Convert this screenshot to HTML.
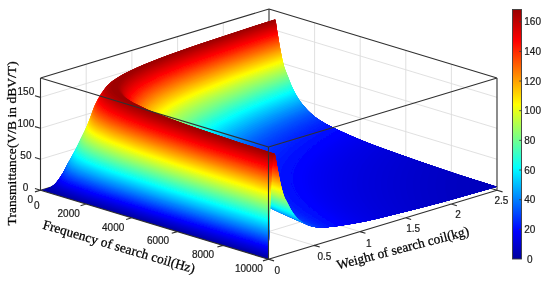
<!DOCTYPE html><html><head><meta charset="utf-8"><title>Transmittance surface</title><style>html,body{margin:0;padding:0;background:#fff}svg{display:block}text{font-family:"Liberation Sans",sans-serif;font-size:10px;fill:#1a1a1a;stroke:#1a1a1a;stroke-width:.2px}.s{font-family:"Liberation Serif",serif;font-size:13.4px;fill:#000;stroke:#000;stroke-width:.25px}</style></head><body>
<svg width="550" height="284" viewBox="0 0 550 284">
<defs><linearGradient id="jet" x1="0" y1="1" x2="0" y2="0">
<stop offset="0.0000" stop-color="#00009e"/>
<stop offset="0.1111" stop-color="#0000ff"/>
<stop offset="0.3651" stop-color="#00ffff"/>
<stop offset="0.6190" stop-color="#ffff00"/>
<stop offset="0.8730" stop-color="#ff0000"/>
<stop offset="1.0000" stop-color="#990000"/>
</linearGradient><filter id="b" x="0" y="0" width="550" height="284" filterUnits="userSpaceOnUse"><feGaussianBlur stdDeviation="0.45"/></filter></defs>
<rect width="550" height="284" fill="#fff"/>
<path d="M86.2 176.4L86.2 64.18M86.2 176.4L314.2 245.4M131.9 162.6L131.9 50.38M131.9 162.6L359.9 231.6M177.6 148.8L177.6 36.58M177.6 148.8L405.6 217.8M223.3 135L223.3 22.78M223.3 135L451.3 204M314.6 135L314.6 22.78M86.1 204L314.6 135M360.2 148.8L360.2 36.58M131.7 217.8L360.2 148.8M405.8 162.6L405.8 50.38M177.3 231.6L405.8 162.6M451.4 176.4L451.4 64.18M222.9 245.4L451.4 176.4M40.5 159.25L269 90.25M269 90.25L497 159.25M40.5 128.3L269 59.3M269 59.3L497 128.3M40.5 97.35L269 28.35M269 28.35L497 97.35" stroke="#dcdcdc" stroke-width="0.9" fill="none"/>
<path d="M40.5 190.2L269 121.2M269 121.2L497 190.2M269 121.2L269 8.98" stroke="#303030" stroke-width="1.1" fill="none"/>
<g filter="url(#b)"><g fill-rule="evenodd" stroke="none" transform="scale(0.25) translate(0.5,0.5)"><path fill="#00009f" d="M1987 746l-150-47-103-35-3 0-1 2-243-86-67-27-74-33-38-19-43-26-26-21-32-35-23-34-23-46-11-31-11-24-10-34-14-70-14-93-3-7-190 61-236 81-78 30-54 23-41 20-40 24-18 14-14 14-15 20-20 32-12 24-27 74-12 27-38 77-26 46-17 35-23 37-11 14-9 8-1-3 2-2-5 5-16 9-34 10 910 276 0-80 4-112 2-14 7 1 83 39 73 31 24 5 53-1 90-13 93-19 227-58 2 2 11-2z"/>
<path fill="#0000a1" d="M1987 746l-150-47-130-44-3 2-217-77-67-27-74-33-38-19-43-26-26-21-32-35-23-34-23-46-11-31-11-24-10-34-14-70-14-93-3-7-190 61-236 81-78 30-54 23-41 20-40 24-18 14-14 14-15 20-20 32-12 24-27 74-12 27-38 77-54 100-18 26-13 13 0-4-11 9-28 11-3 4 9 5 69 22 819 248 0-79 4-112 2-14 7 1 83 39 73 31 24 5 53-1 60-8 83-15 110-26 131-34 5 2z"/>
<path fill="#0000a3" d="M1987 746l-150-47-153-52-4 2-193-69-67-27-74-33-38-19-43-26-26-21-32-35-23-34-23-46-11-31-11-24-10-34-14-70-14-93-3-7-190 61-236 81-78 30-54 23-41 20-40 24-18 14-14 14-15 20-20 32-12 24-27 74-12 27-38 77-54 100-18 26-12 12-1-3-11 9-25 11-1 3 3 3 58 20 831 252 0-78 4-112 2-14 7 1 83 39 73 31 24 5 53-1 60-8 83-15 110-26 108-28 4 2 117-31z"/>
<path fill="#0000a5" d="M1987 746l-150-47-176-60-4 2-170-61-67-27-74-33-38-19-43-26-26-21-32-35-23-34-23-46-11-31-11-24-10-34-14-70-14-93-3-7-190 61-236 81-78 30-54 23-41 20-40 24-18 14-14 14-15 20-20 32-12 24-27 74-12 27-38 77-54 100-18 26-10 11-3-2-11 9-18 8-4 3 0 2 16 9 58 19 814 247 1-19-2-2 2-90 3-78 2-14 7 1 83 39 73 31 24 5 53-1 60-8 83-15 194-48 5 2 140-37z"/>
<path fill="#0000a7" d="M1987 746l-150-47-196-67-3 2-151-54-67-27-74-33-38-19-43-26-26-21-32-35-23-34-23-46-11-31-11-24-10-34-14-70-14-93-3-7-190 61-236 81-78 30-54 23-41 20-40 24-18 14-14 14-15 20-20 32-12 24-27 74-12 27-38 77-54 100-18 26-10 11-1-3-13 10-15 7-4 5 6 5 17 7 81 26 781 237 1-19-2-2 2-89 3-78 2-14 7 1 83 39 73 31 24 5 53-1 60-8 68-12 76-17 113-29 5 2 160-42z"/>
<path fill="#0000aa" d="M1987 746l-150-47-216-74-3 2-131-47-67-27-74-33-38-19-43-26-26-21-32-35-23-34-23-46-11-31-11-24-10-34-14-70-14-93-3-7-190 61-236 81-78 30-54 23-41 20-40 24-18 14-14 14-15 20-20 32-12 24-27 74-12 27-38 77-54 100-27 36-1-3-14 11-14 7-2 4 4 4 15 7 89 29 774 235 1-19-2-2 2-88 3-78 2-14 7 1 83 39 73 31 24 5 53-1 60-8 68-12 76-17 94-24 5 2 179-47z"/>
<path fill="#0000ac" d="M1987 746l-150-47-129-43-106-38-4 2-111-40-67-27-74-33-38-19-43-26-26-21-32-35-23-34-23-46-11-31-11-24-10-34-14-70-14-93-3-7-190 61-236 81-78 30-54 23-41 20-40 24-18 14-14 14-15 20-20 32-12 24-27 74-12 27-38 77-54 100-26 35-1-3-9 8-16 9-3 3 0 3 3 3 20 9 89 29 767 233 1-19-2-2 2-87 3-78 2-14 7 1 83 39 73 31 24 5 53-1 60-8 68-12 76-17 74-19 5 2 155-40z"/>
<path fill="#0000ae" d="M1987 746l-150-47-129-43-123-44-10 0-88-32-67-27-74-33-38-19-43-26-26-21-32-35-23-34-23-46-11-31-11-24-10-34-14-70-14-93-3-7-190 61-236 81-78 30-54 23-41 20-40 24-18 14-14 14-15 20-20 32-12 24-27 74-12 27-38 77-54 100-25 34-1-3-10 9-14 8-3 5 2 3 13 7 70 24 792 241 1-19-2-2 2-86 3-78 2-14 7 1 83 39 73 31 24 5 53-1 112-17 71-15 75-19 5 2 175-45z"/>
<path fill="#0000b0" d="M1987 746l-150-47-129-43-143-51-4 2-74-27-67-27-74-33-38-19-43-26-26-21-32-35-23-34-23-46-11-31-11-24-10-34-14-70-14-93-3-7-298 97-160 57-115 48-49 26-29 20-24 24-31 47-12 24-27 74-12 27-38 77-18 31-30 59-29 42-3 0 2-4-12 12-14 9 0 5 7 5 19 8 82 27 766 233 1-19-2-2 2-85 3-78 2-14 7 1 83 39 73 31 24 5 53-1 112-17 71-15 58-15 3 2 194-49z"/>
<path fill="#0000b2" d="M1987 746l-150-47-155-52-134-48-6 1-55-20-67-27-74-33-38-19-43-26-26-21-32-35-23-34-23-46-11-31-11-24-10-34-14-70-14-93-3-7-298 97-160 57-115 48-49 26-29 20-24 24-31 47-12 24-27 74-12 27-38 77-18 31-30 59-29 42-2 0 1-4-12 12-12 8 0 5 5 4 20 9 104 34 743 225 1-18-2-2 2-84 3-78 2-14 7 1 83 39 73 31 24 5 53-1 90-13 53-10 78-19 9 1 208-53z"/>
<path fill="#0000b4" d="M1987 746l-150-47-155-52-147-53-10 0-105-41-74-33-38-19-43-26-26-21-32-35-23-34-23-46-11-31-11-24-10-34-14-70-14-93-3-7-190 61-236 81-78 30-54 23-41 20-40 24-18 14-14 14-31 45-16 31-27 74-12 27-38 77-26 46-17 35-29 45-5 5 0-4-7 8-13 9-4 6 4 5 21 10 81 27 765 232 1-18-2-2 2-83 3-78 2-14 7 1 83 39 73 31 24 5 53-1 112-17 93-21 5 2 228-58z"/>
<path fill="#0000b6" d="M1987 746l-150-47-178-60-144-52-6 1-89-35-74-33-38-19-43-26-26-21-32-35-23-34-23-46-11-31-11-24-10-34-14-70-14-93-3-7-298 97-160 57-115 48-49 26-29 20-24 24-31 47-12 24-27 74-12 27-38 77-18 31-30 59-24 36-4 4 0-4-8 9-15 12 0 3 5 5 27 12 82 27 756 229-2-33 5-147 2-14 7 1 83 39 73 31 24 5 53-1 90-13 53-10 45-11 9 1 241-61z"/>
<path fill="#0000b8" d="M1987 746l-119-37-160-53-209-75-4 2-75-30-74-33-38-19-43-26-26-21-32-35-23-34-23-46-11-31-11-24-10-34-14-70-14-93-3-7-298 97-160 57-115 48-49 26-29 20-24 24-31 47-12 24-27 74-12 27-38 77-18 31-30 59-27 39-1-3-8 9-10 7-3 7 6 6 25 11 91 30 746 227-2-33 5-147 2-14 7 1 83 39 73 31 24 5 53-1 90-13 85-18 4 2 259-65z"/>
<path fill="#0000ba" d="M1987 746l-150-47-178-60-173-63-4 2-136-58-38-19-43-26-26-21-32-35-23-34-23-46-11-31-11-24-10-34-14-70-14-93-3-7-190 61-236 81-78 30-54 23-41 20-40 24-18 14-14 14-31 45-16 31-27 74-12 27-38 77-26 46-17 35-31 47-1-3-20 19-1 3 5 6 16 8 94 32 752 229-2-32 5-147 2-14 7 1 83 39 73 31 24 5 53-1 60-8 68-12 34-8 5 2 271-68z"/>
<path fill="#0000bc" d="M1987 746l-119-37-160-53-159-56-74-28-6 1-123-53-38-19-43-26-26-21-32-35-23-34-23-46-11-31-11-24-10-34-14-70-14-93-3-7-298 97-160 57-115 48-49 26-29 20-24 24-31 47-12 24-32 86-45 92-54 100-20 28-1-1 1-4-5 7-14 12-1 5 6 6 14 7 84 29 761 232 0-19-2-2 5-157 2-14 7 1 83 39 73 31 24 5 53-1 90-13 58-12 6 2 284-71z"/>
<path fill="#0000be" d="M1944 733l-236-77-159-56-86-33-4 2-113-49-54-28-35-23-34-31-22-27-17-26-23-46-11-31-11-24-10-34-14-70-14-93-3-7-190 61-236 81-78 30-54 23-41 20-40 24-18 14-14 14-31 45-16 31-32 86-45 92-54 100-18 26-2 0 1-4-19 20-1 3 6 7 21 10 67 23 770 235 0-19-2-2 5-156 2-14 7 1 83 39 73 31 24 5 41 0 22-2 80-12 49-10 6 2 217-53 156-42 105-30z"/>
<path fill="#0000c0" d="M1882 713l-223-74-162-58-44-18-4 2-68-29-73-35-31-18-30-22-31-31-29-40-23-44-18-48-7-14-13-47-11-57-14-93-3-7-298 97-160 57-115 48-49 26-29 20-24 24-31 47-12 24-32 86-45 92-54 100-18 25-1-3-18 19 0 5 7 6 24 11 77 26 754 230 0-19-2-2 5-155 2-14 7 1 83 39 73 31 24 5 41 0 52-6 89-16 6 2 50-11 204-51 174-48-3-16 0-30z"/>
<path fill="#0000c2" d="M1832 697l-210-71-125-45-49-20-9 0-80-35-51-25-31-18-30-22-31-31-29-40-23-44-18-48-7-14-13-47-11-57-14-93-3-7-298 97-160 57-115 48-49 26-29 20-24 24-31 47-12 24-32 86-45 92-54 100-17 24-1-3-17 18-1 5 4 5 17 9 99 34 741 226 0-19-2-2 5-154 2-14 7 1 41 20 104 46 35 9 41 0 72-9 58-11 5 2 192-45 198-53-7-30 0-32z"/>
<path fill="#0000c5" d="M1792 684l-243-84-73-27-40-17-4 2-73-32-51-25-31-18-30-22-31-31-29-40-23-44-18-48-7-14-13-47-11-57-14-93-3-7-190 61-236 81-78 30-54 23-41 20-40 24-18 14-14 14-31 45-16 31-32 86-45 92-54 100-17 24-1-3-15 16-2 5 7 8 21 10 82 28 750 229 0-20-2-1 5-153 2-14 7 1 41 20 104 46 35 9 41 0 72-9 47-9 12 1 26-5 170-41 158-42-6-17-5-27 1-36z"/>
<path fill="#0000c7" d="M1759 673l-210-73-73-27-47-20-9 0-74-33-38-19-43-26-26-21-32-35-23-34-20-39-18-48-7-14-13-47-11-57-14-93-3-7-298 97-160 57-115 48-49 26-29 20-24 24-31 47-12 24-32 86-45 92-54 100-15 22-2 0 1-4-17 20 0 5 6 6 26 12 92 31 734 224 0-20-2-1 5-152 2-14 7 1 41 20 104 46 35 9 41 0 38-4 76-13 4 2 79-16 255-65-10-24-6-30 0-28 2-14 7-25z"/>
<path fill="#0000c9" d="M1731 663l-215-75-97-39-6 1-105-49-43-26-26-21-32-35-23-34-20-39-18-48-7-14-13-47-11-57-14-93-3-7-298 97-160 57-115 48-49 26-29 20-24 24-31 47-12 24-32 86-45 92-54 100-15 21-1-3-16 19 0 5 6 6 23 11 88 30 740 226 0-20-2-1 5-151 2-14 7 1 41 20 104 46 35 9 53-1 60-8 31-6 12 1 82-17 226-57-9-18-9-29-3-22 0-16 6-34 6-17z"/>
<path fill="#0000cb" d="M1705 654l-208-73-85-35-6 1-60-27-47-24-34-21-26-21-32-35-23-34-20-39-18-48-7-14-13-47-11-57-14-93-3-7-298 97-160 57-115 48-49 26-29 20-24 24-31 47-12 24-32 86-45 92-54 100-15 21 0-4-16 19 0 5 11 9 23 10 98 33 724 221 0-20-2-1 5-150 2-14 7 1 63 30 87 38 30 7 41 0 52-6 45-8 7 2 53-10 240-59-12-24-8-22-5-28 0-22 3-20 7-23z"/>
<path fill="#0000cd" d="M1682 647l-193-69-86-36-3 2-101-48-34-21-26-21-32-35-23-34-20-39-18-48-7-14-13-47-11-57-14-93-3-7-298 97-160 57-115 48-49 26-29 20-24 24-31 47-12 24-32 86-45 92-18 31-30 59-20 30-1-3-15 18 0 5 6 6 20 10 99 34 730 223 0-20-2-3 5-147 2-14 7 1 41 20 104 46 35 9 41 0 38-4 53-9 3 2 10-1 93-19 177-44-17-31-8-22-5-26 0-26 3-18 6-20 12-26z"/>
<path fill="#0000cf" d="M1660 639l-171-61-93-39-6 1-91-44-34-21-26-21-32-35-23-34-20-39-18-48-7-14-13-47-11-57-14-93-3-7-298 97-160 57-115 48-49 26-29 20-24 24-31 47-12 24-32 86-45 92-18 31-30 59-18 28-2 0 0-3-15 19 0 5 9 8 19 9 87 30 739 226 0-20-2-2 5-147 2-14 7 1 41 20 104 46 35 9 41 0 38-4 41-7 13 1 105-21 155-39-14-22-9-18-7-20-5-27 0-22 2-15 8-27 11-23z"/>
<path fill="#0000d1" d="M1639 631l-150-53-100-42-8 0-73-35-31-18-30-22-24-23-27-34-17-28-15-30-18-48-7-14-13-47-11-57-14-93-3-7-298 97-160 57-115 48-49 26-29 20-24 24-31 47-12 24-32 86-45 92-18 31-30 59-18 27-2-2-14 18 0 5 9 8 14 7 85 30 745 228 0-20-2-1 5-147 2-14 7 1 41 20 104 46 35 9 41 0 78-10 2 2 117-23 135-34-16-22-14-27-6-17-5-27 1-30 8-31 13-27z"/>
<path fill="#0000d3" d="M1620 625l-131-47-67-27-37-17-8 0-69-33-31-18-30-22-24-23-27-34-17-28-15-30-18-48-7-14-13-47-11-57-14-93-3-7-298 97-160 57-115 48-49 26-29 20-24 24-31 47-12 24-32 86-45 92-18 31-30 59-18 27-1-3-14 18 0 5 7 7 18 9 101 35 726 222 1-19-2-2 0-34 4-112 2-14 7 1 41 20 104 46 35 9 41 0 71-9 3 2 110-21 128-32-24-33-15-32-7-30 0-30 5-24 9-23 19-32z"/>
<path fill="#0000d5" d="M1601 618l-112-40-67-27-46-21-6 1-62-30-31-18-30-22-24-23-27-34-17-28-15-30-18-48-7-14-13-47-11-57-14-93-3-7-298 97-160 57-115 48-49 26-29 20-24 24-31 47-12 24-32 86-27 56-66 126-16 25-2 0 0-3-14 19 0 5 10 9 17 8 92 32 732 224 1-19-2-2 0-33 4-112 2-14 7 1 41 20 104 46 35 9 41 0 64-8 3 2 90-16 136-33-26-33-17-33-9-35 0-30 9-35 11-23 15-23z"/>
<path fill="#0000d7" d="M1582 611l-106-38-68-28-39-18-5 1-56-27-31-18-30-22-24-23-27-34-17-28-15-30-18-48-7-14-13-47-11-57-14-93-3-7-298 97-160 57-115 48-49 26-29 20-24 24-31 47-12 24-32 86-27 56-66 126-16 24-2-2-12 16-1 7 10 9 19 9 80 28 741 227 1-19-2-2 0-32 4-112 2-14 7 1 41 20 104 46 35 9 41 0 53-7 7 2 97-17 117-28-28-34-19-34-10-33-1-35 7-30 13-28 22-32z"/>
<path fill="#0000d9" d="M1563 605l-122-46-78-35-4 2-51-25-31-18-30-22-24-23-27-34-17-28-15-30-18-48-7-14-13-47-11-57-14-93-3-7-190 61-236 81-78 30-54 23-41 20-40 24-18 14-14 14-15 20-20 32-12 24-32 86-45 92-18 31-30 59-16 24-1-3-14 21 6 8 19 10 69 25 230 72 526 160 1-19-2-2 0-31 4-112 2-14 7 1 41 20 104 46 35 9 41 0 51-6 3 2 103-18 98-24-34-40-16-27-9-23-4-17-1-32 8-34 13-27 18-26z"/>
<path fill="#0000db" d="M1546 598l-105-39-85-38-5 1-43-21-31-18-20-14-18-15-23-24-20-26-17-28-15-30-18-48-7-14-13-47-11-57-14-93-3-7-190 61-236 81-78 30-54 23-41 20-40 24-18 14-14 14-15 20-20 32-12 24-32 86-27 56-66 126-14 22-2 0 0-3-13 18-1 5 12 11 17 8 92 32 728 223 1-19-2-2 4-142 2-14 7 1 41 20 104 46 35 9 41 0 39-5 15 1 103-18 81-19-32-34-21-31-14-33-4-18-1-24 5-28 14-33 26-37z"/>
<path fill="#0000dd" d="M1529 592l-88-33-91-41-4 2-38-19-31-18-20-14-18-15-23-24-20-26-17-28-15-30-18-48-7-14-13-47-11-57-14-93-3-7-190 61-236 81-78 30-54 23-41 20-40 24-18 14-14 14-15 20-20 32-12 24-32 86-27 56-66 126-15 22-1-3-10 14-3 8 7 8 17 9 90 32 734 225 1-19-2-2 4-141 2-14 7 1 41 20 104 46 35 9 41 0 31-4 16 1 95-16 79-18-33-33-15-19-12-19-14-33-4-19-1-17 5-32 14-33 22-32z"/>
<path fill="#0000e0" d="M1513 586l-72-27-96-43-5 1-32-16-31-18-20-14-18-15-28-30-24-34-23-44-30-77-16-72-17-110-3-7-190 61-236 81-78 30-54 23-41 20-40 24-18 14-14 14-15 20-20 32-12 24-32 86-27 56-66 126-14 21-1-3-11 15-2 8 8 8 25 12 102 35 712 218 1-19-2-2 4-140 2-14 7 1 41 20 104 46 35 9 41 0 31-4 3 2 6 0 102-17 63-14-37-36-17-21-14-22-14-35-3-17 0-24 7-30 14-29 27-36z"/>
<path fill="#0000e2" d="M1498 581l-76-30-83-38-5 1-35-18-34-21-18-14-24-23-16-19-23-34-20-39-30-77-16-72-17-110-3-7-190 61-236 81-78 30-54 23-41 20-40 24-18 14-14 14-15 20-20 32-12 24-32 86-27 56-66 126-12 19-2 0 0-3-12 17-1 7 11 10 24 11 93 32 718 220 1-19-2-2 4-139 2-14 7 1 41 20 104 46 35 9 41 0 23-3 6 2 97-15 64-14-22-19-25-26-15-19-12-19-9-19-7-24-1-35 4-19 6-17 19-33 26-31z"/>
<path fill="#0000e4" d="M1485 576l-77-31-75-35-5 1-29-15-34-21-18-14-24-23-16-19-23-34-20-39-30-77-16-72-17-110-3-7-190 61-236 81-78 30-54 23-41 20-40 24-18 14-14 14-15 20-20 32-12 24-32 86-27 56-61 117-15 25-3 3-1-3-11 16-1 8 9 8 23 11 86 30 727 223 1-19-2-2 4-138 2-14 7 1 41 20 104 46 35 9 41 0 22-2 2 2 80-12 72-15-46-42-17-20-15-22-12-25-6-21-1-35 4-19 8-21 19-31 37-41z"/>
<path fill="#0000e6" d="M1473 571l-65-26-79-37-5 1-25-13-34-21-18-14-24-23-16-19-23-34-20-39-30-77-16-72-17-110-3-7-190 61-236 81-78 30-54 23-41 20-40 24-18 14-14 14-15 20-20 32-12 24-32 86-27 56-66 126-12 18-1-3-12 17-1 5 8 9 13 7 88 32 253 79 483 147 1-19-2-2 4-137 2-14 7 1 41 20 104 46 35 9 41 0 13-2 11 2 80-12 60-12-26-21-27-26-14-16-17-24-12-24-8-31 0-26 8-31 8-17 12-19 15-19 22-23z"/>
<path fill="#0000e8" d="M1461 567l-78-33-60-29-5 1-26-14-27-17-26-21-16-16-22-27-17-26-20-39-30-77-16-72-17-110-3-7-190 61-236 81-78 30-54 23-41 20-40 24-18 14-14 14-15 20-20 32-12 24-32 86-27 56-66 126-10 16-2 0 0-3-11 16-2 8 11 10 21 10 104 36 708 217 1-19-2-2 4-136 2-14 7 1 41 20 104 46 35 9 65 0 80-12 49-10-42-34-27-28-18-24-14-26-6-18-3-16 0-24 3-16 7-20 13-24 10-14 33-36z"/>
<path fill="#0000ea" d="M1451 563l-68-29-64-31-5 1-37-21-38-29-16-16-22-27-17-26-20-39-30-77-16-72-17-110-3-7-190 61-236 81-78 30-54 23-41 20-40 24-18 14-14 14-15 20-20 32-12 24-32 86-27 56-61 117-13 22-3 3-1-3-11 16-1 7 9 9 25 12 95 33 714 219 1-19-2-2 4-135 2-14 7 1 41 20 104 46 35 9 65 0 80-12 39-8-43-34-28-28-24-32-11-21-5-14-4-19 0-26 9-33 11-21 14-20 37-39z"/>
<path fill="#0000ec" d="M1443 559l-60-25-68-33-5 1-33-19-38-29-16-16-22-27-17-26-20-39-30-77-16-72-17-110-3-7-190 61-236 81-78 30-54 23-41 20-40 24-18 14-14 14-15 20-20 32-12 24-27 74-12 27-38 77-26 46-17 35-15 24-1-3-11 16-1 8 7 7 24 12 88 31 723 222 0-77 3-78 2-14 7 1 41 20 104 46 35 9 65 0 110-18-21-15-33-28-19-19-19-23-11-17-10-21-6-21-2-23 3-22 7-21 11-21 15-21 40-41z"/>
<path fill="#0000ee" d="M1433 555l-72-31-52-26-4 1-28-16-38-29-23-24-20-26-17-28-15-30-30-77-16-72-17-110-3-7-190 61-236 81-78 30-54 23-41 20-40 24-18 14-14 14-15 20-20 32-12 24-32 86-27 56-66 126-8 13-2 0 0-3-12 18-1 5 5 7 24 13 115 40 356 110 342 103 0-75 3-78 2-14 7 1 41 20 104 46 23 7 12 2 39 0 4 2 52-6 72-12-50-38-37-37-19-26-11-21-6-17-3-16 0-24 4-19 13-30 11-17 20-24 17-17z"/>
<path fill="#0000f0" d="M1425 552l-77-34-42-22-5 1-24-14-38-29-23-24-20-26-17-28-15-30-30-77-16-72-17-110-3-7-190 61-236 81-78 30-54 23-41 20-40 24-18 14-14 14-15 20-20 32-12 24-32 86-27 56-72 136-3 3-1-3-10 15-2 8 12 11 19 9 106 37 326 101 378 114 0-74 3-78 2-14 7 1 41 20 104 46 23 7 12 2 34 0 3 2 58-6 63-11-25-17-42-35-24-25-14-18-16-28-6-17-3-14-1-21 4-23 7-19 11-20 14-19 15-17 30-28z"/>
<path fill="#0000f2" d="M1417 548l-69-30-46-24-4 1-21-12-38-29-23-24-20-26-17-28-15-30-30-77-16-72-17-110-3-7-190 61-236 81-78 30-54 23-41 20-40 24-18 14-14 14-15 20-20 32-12 24-27 74-12 27-38 77-26 46-17 35-13 21-1-3-11 16-1 8 10 9 18 9 102 36 283 88 427 129 0-73 3-78 2-14 7 1 41 20 104 46 23 7 55 4 38-4 69-11-41-29-24-20-30-30-15-19-9-14-13-30-4-20 0-20 4-20 5-14 11-21 16-22 33-34 15-13z"/>
<path fill="#0000f4" d="M1410 545l-62-27-49-26-5 1-17-10-38-29-23-24-20-26-17-28-15-30-30-77-16-72-17-110-3-7-190 61-236 81-78 30-54 23-41 20-40 24-18 14-14 14-15 20-20 32-12 24-32 86-27 56-66 126-7 11-2-2 1-2-12 18-1 5 5 7 19 11 38 15 59 20 279 87 440 133 0-72 3-78 2-14 7 1 41 20 104 46 23 7 55 4 38-4 61-10-33-22-28-22-33-31-17-20-15-23-9-20-5-19-1-26 3-17 8-22 10-18 18-24 21-22 25-22 33-25z"/>
<path fill="#0000f6" d="M1402 542l-54-24-53-28-4 1-26-16-26-21-16-16-31-40-28-52-30-77-16-72-17-110-3-7-190 61-236 81-78 30-54 23-41 20-40 24-18 14-14 14-15 20-20 32-12 24-27 74-12 27-38 77-26 46-17 35-11 19-2 0 0-3-10 15-2 8 12 11 28 13 105 36 349 108 345 104 0-71 3-78 2-14 7 1 41 20 104 46 23 7 12 2 22 0 3 2 18 0 38-4 53-9-35-23-32-25-32-30-17-20-16-25-10-25-3-14 0-27 3-15 9-23 10-17 17-22 18-19 26-23 40-30z"/>
<path fill="#0000f8" d="M1394 538l-46-20-58-31-3 2-22-14-26-21-16-16-31-40-28-52-30-77-16-72-17-110-3-7-190 61-236 81-78 30-54 23-41 20-40 24-18 14-14 14-15 20-20 32-12 24-27 74-12 27-38 77-26 46-17 35-10 17-2 0 0-3-11 17-1 7 10 10 27 13 101 35 355 110 346 104-2-36 4-112 2-14 7 1 41 20 104 46 23 7 30 2 3 2 22 0 84-11-32-21-50-39-34-35-20-29-9-20-5-20-1-21 3-19 8-22 17-28 13-16 40-38 27-21z"/>
<path fill="#0000fb" d="M1387 535l-39-17-38-19-23-14-3 2-19-12-26-21-16-16-31-40-28-52-30-77-16-72-17-110-3-7-190 61-236 81-78 30-54 23-41 20-40 24-18 14-14 14-15 20-20 32-12 24-32 86-27 56-66 126-6 8-1-3-12 21 6 9 22 12 104 37 263 82 444 135-2-36 4-112 2-14 7 1 41 20 104 46 23 7 27 2 3 2 25 0 77-10-30-19-37-27-28-24-24-25-17-23-12-23-7-25-1-20 2-15 7-22 13-24 16-21 19-20 31-27z"/>
<path fill="#0000fd" d="M1380 532l-70-33-25-15-4 1-16-10-26-21-16-16-16-19-20-29-23-44-30-77-16-72-17-110-3-7-190 61-236 81-78 30-54 23-41 20-40 24-18 14-14 14-15 20-20 32-12 24-27 74-12 27-38 77-26 46-25 49-2 2-1-3-10 15-2 8 10 10 22 11 90 32 259 81 457 139-2-35 4-112 2-14 7 1 41 20 104 46 23 7 24 2 3 2 28 0 70-9-35-22-32-23-31-26-27-28-18-25-10-20-7-26 0-25 6-24 10-21 12-18 16-19 26-25 22-18z"/>
<path fill="#0000ff" d="M1374 529l-64-30-28-17-5 1-12-8-26-21-16-16-16-19-20-29-23-44-30-77-16-72-17-110-3-7-190 61-236 81-78 30-54 23-41 20-40 24-18 14-14 14-15 20-20 32-12 24-27 74-12 27-38 77-26 46-25 49-4 0-9 14-1 7 3 5 8 6 23 11 115 40 688 211-2-34 4-112 2-14 7 1 41 20 104 46 23 7 20 2 4 2 31 0 64-8-24-14-54-38-26-22-27-28-18-25-11-23-6-26 0-17 4-21 12-27 12-18 16-19 43-39 27-20z"/>
<path fill="#0002ff" d="M1367 526l-57-27-32-19-4 1-17-12-34-31-16-19-20-29-23-44-30-77-16-72-17-110-3-7-190 61-236 81-78 30-54 23-41 20-40 24-18 14-14 14-15 20-20 32-12 24-32 86-27 56-70 132-1-4-12 21 2 5 8 7 22 11 111 39 694 213-2-33 4-112 2-14 7 1 41 20 104 46 23 7 18 2 3 2 34 0 57-7-38-23-41-29-31-26-26-27-16-22-12-24-6-23 0-25 6-24 8-17 8-13 22-27 24-23 34-27z"/>
<path fill="#0004ff" d="M1360 523l-50-24-35-21-4 1-32-25-23-24-20-26-12-19-20-39-30-77-16-72-17-110-3-7-190 61-236 81-78 30-54 23-41 20-40 24-18 14-14 14-15 20-20 32-12 24-27 74-12 27-38 77-26 46-24 47-2 0 0-3-10 16-2 8 7 8 22 12 107 38 240 75 460 140-2-32 4-112 2-14 7 1 83 39 73 31 23 4 7 3 37 0 51-6-39-23-42-29-26-21-27-26-18-22-10-16-11-27-3-17 1-23 6-22 10-20 19-26 20-21 29-25 27-20z"/>
<path fill="#0007ff" d="M1354 520l-44-21-36-22-6 0-29-23-23-24-20-26-12-19-20-39-30-77-16-72-17-110-3-7-190 61-236 81-78 30-54 23-41 20-40 24-18 14-14 14-15 20-20 32-12 24-27 74-12 27-38 77-26 46-24 47-2 0 0-3-10 16-1 8 11 10 20 10 95 34 298 93 411 125 0-19-2-2 4-122 2-14 7 1 83 39 73 31 22 4 6 3 39 0 45-5-32-18-41-27-51-41-22-23-19-26-9-18-7-26 0-23 6-24 12-24 18-24 29-29 27-22 34-24z"/>
<path fill="#0009ff" d="M1348 518l-47-24-30-19-6 0-18-14-36-37-27-39-20-39-30-77-16-72-17-110-3-7-190 61-236 81-78 30-54 23-41 20-40 24-18 14-14 14-15 20-20 32-12 24-27 74-12 27-38 77-26 46-22 44-2 2-1-3-11 17-1 5 7 9 29 15 118 41 681 209 0-19-2-2 4-121 2-14 7 1 41 20 115 50 17 3 8 4 42 0 38-4-49-29-34-23-39-31-27-27-18-24-13-26-5-20 0-25 7-26 11-21 20-26 23-23 47-37 38-25z"/>
<path fill="#000cff" d="M1343 515l-42-21-33-21-4 1-17-13-36-37-27-39-20-39-30-77-16-72-17-110-3-7-190 61-236 81-78 30-54 23-41 20-40 24-18 14-14 14-15 20-20 32-12 24-27 74-12 27-38 77-26 46-22 44-4 0-10 17 0 4 8 9 25 13 114 40 687 211 0-19-2-2 4-120 2-14 7 1 41 20 104 46 27 7 7 4 44 0 31-4-42-24-44-29-37-29-24-23-19-23-15-26-8-28 0-23 5-21 11-23 19-26 28-28 49-38 34-22z"/>
<path fill="#000eff" d="M1337 512l-36-18-36-23-4 1-14-11-36-37-15-20-17-28-18-37-27-70-16-72-17-110-3-7-190 61-236 81-78 30-54 23-41 20-40 24-18 14-14 14-15 20-20 32-12 24-27 74-12 27-38 77-26 46-23 45-1-4-10 16-1 8 12 11 23 11 105 37 693 213 0-19-2-2 4-119 2-14 7 1 41 20 104 46 22 6 11 5 45 0 26-3-51-29-38-25-40-31-24-23-19-23-13-22-8-23-2-26 3-18 13-30 19-26 28-28 35-28 37-25z"/>
<path fill="#0010ff" d="M1331 509l-37-19-30-20-7-1-10-8-36-37-15-20-17-28-18-37-27-70-16-72-17-110-3-7-190 61-236 81-78 30-54 23-41 20-40 24-18 14-14 14-15 20-20 32-12 24-27 74-12 27-38 77-26 46-22 43-2-2-10 16-1 5 8 10 25 13 101 36 285 89 414 126 0-19-2-2 4-118 2-14 7 1 41 20 104 46 29 10 49 1 21-2-58-33-38-25-42-33-26-26-20-27-9-18-6-21-1-22 7-29 11-21 20-26 21-21 47-37 43-28z"/>
<path fill="#0013ff" d="M1327 507l-33-17-34-23-3 2-18-15-32-35-28-43-18-37-27-70-16-72-17-110-3-7-190 61-236 81-78 30-54 23-41 20-40 24-18 14-14 14-15 20-20 32-12 24-27 74-12 27-38 77-18 31-29 57-2 0 0-3-9 15-2 8 9 10 21 11 85 31 225 71 492 150 0-19-2-2 4-117 2-14 7 1 92 43 80 33 51 1 15-2-37-20-53-33-33-24-30-26-22-24-16-24-10-25-3-24 4-25 12-27 20-27 25-25 23-19 38-27 44-27z"/>
<path fill="#0015ff" d="M1321 504l-42-23-19-14-5 0-16-13-32-35-28-43-18-37-27-70-16-72-17-110-3-7-190 61-236 81-78 30-54 23-41 20-40 24-18 14-14 14-15 20-20 32-12 24-27 74-12 27-38 77-26 46-21 41-2-2 1-2-10 17-1 8 12 11 27 13 115 40 677 208 0-19-2-2 4-116 2-14 7 1 92 43 80 33 62 0-58-32-59-39-31-25-27-27-15-21 1 4-1 1-5-8-14-65 0-10 2 0 0 3 7-22 15-25 13-16 29-28 32-25 31-21z"/>
<path fill="#0018ff" d="M1317 502l-38-21-23-17-4 1-13-11-32-35-28-43-18-37-27-70-16-72-17-110-3-7-190 61-236 81-78 30-54 23-41 20-40 24-18 14-14 14-15 20-20 32-12 24-27 74-12 27-38 77-26 46-21 41-1-4-10 17-1 5 8 10 22 12 41 16 77 26 683 210 0-19-2-5 4-112 2-14 7 1 83 39 85 36 10 2 51-1-59-32-50-32-39-30-32-32 0 4-3-3-13-47-12-67 2-2 1 3 10-20 15-20 18-19 24-21 31-23 37-24z"/>
<path fill="#001aff" d="M1313 500l-34-19-24-18-4 1-12-10-32-35-28-43-18-37-27-70-16-72-17-110-3-7-190 61-236 81-78 30-54 23-41 20-40 24-18 14-14 14-15 20-20 32-12 24-27 74-12 27-38 77-26 46-20 39-1-4-11 19 0 5 6 8 28 15 104 37 223 70 469 143 0-19-2-4 4-112 2-14 7 1 63 30 101 44 14 3 46-1-37-19-60-36-42-30-30-27 3 4-1 2-6-6-9-24-9-36-14-72 0-9 1-1 2 2 16-24 24-25 38-31 65-42z"/>
<path fill="#001cff" d="M1308 497l-29-16-27-20-5 0-8-7-32-35-28-43-18-37-27-70-16-72-17-110-3-7-190 61-236 81-78 30-54 23-41 20-40 24-18 14-14 14-15 20-20 32-12 24-27 74-12 27-38 77-26 46-20 39-1-4-8 14-2 10 7 8 22 12 93 34 196 62 511 156 0-19-2-3 4-112 2-14 7 1 63 30 100 44 15 3 43 0-41-21-43-25-41-27-33-26 2 3-2 1-4-4-11-20-9-29-22-108 0-9 1-1 2 2 16-21 18-18 44-35 58-37z"/>
<path fill="#001fff" d="M1304 495l-25-14-29-22-3 2-24-23-31-40-28-52-18-48-7-14-10-34-14-70-14-93-3-7-190 61-236 81-78 30-54 23-41 20-40 24-18 14-14 14-15 20-20 32-12 24-27 74-12 27-38 77-26 46-17 35-2 2-1-3-11 19 0 3 3 6 9 7 29 14 118 41 670 206 0-20-2-1 4-112 2-14 7 1 162 74 16 3 38 0-66-35-60-38-23-18 2 3-1 2-5-5-15-28-9-29-12-54-12-72 2-3 1 4 24-27 50-40 64-40z"/>
<path fill="#0021ff" d="M1300 493l-33-20-17-14-5 0-22-21-31-40-28-52-18-48-7-14-10-34-14-70-14-93-3-7-190 61-236 81-78 30-54 23-41 20-40 24-18 14-14 14-15 20-20 32-12 24-27 74-12 27-38 77-26 46-17 35-2 2-1-3-9 15-1 8 13 12 25 12 114 40 676 208 1-19-2-2 0-33 3-78 2-14 7 1 159 73 19 4 34 0-67-35-35-21-39-27 1 2-2 1-3-3-19-36-9-29-16-75-9-60 1-1 2 2 23-24 23-19 43-30 47-28z"/>
<path fill="#0023ff" d="M1297 491l-30-18-21-17-3 1-20-19-31-40-28-52-18-48-7-14-10-34-14-70-14-93-3-7-190 61-236 81-78 30-54 23-41 20-40 24-18 14-14 14-15 20-20 32-12 24-27 74-12 27-38 77-26 46-17 35-2 0 0-3-11 21 2 5 7 7 18 10 48 19 71 24 181 57 501 153 1-19-2-2 0-32 3-78 2-14 7 1 156 72 22 5 30 0-57-29-38-22-39-26 2 3-1 1-5-4-22-42-9-29-16-75-10-58 0-10 1-1 1 3 32-30 57-40 57-33z"/>
<path fill="#0026ff" d="M1293 489l-26-16-22-18-3 1-19-18-31-40-28-52-18-48-7-14-10-34-14-70-14-93-3-7-190 61-236 81-78 30-54 23-41 20-40 24-18 14-14 14-15 20-20 32-12 24-27 74-12 27-38 77-26 46-16 33-2 2-1-3-7 12-3 10 2 4 8 7 21 11 35 14 67 23 206 65 488 149 1-19-2-2 0-31 3-78 2-14 7 1 158 73 20 4 26 0-70-36-56-35 0 4-5-4-25-48-6-18-13-55-16-94-3-8 34-29 52-36 59-34z"/>
<path fill="#0028ff" d="M1289 487l-22-14-24-20-4 1-16-16-31-40-28-52-18-48-7-14-10-34-14-70-14-93-3-7-190 61-236 81-78 30-54 23-41 20-40 24-18 14-14 14-15 20-20 32-12 24-27 74-12 27-38 77-26 46-16 33-2 0 0-3-8 14-2 10 11 11 31 15 124 43 660 203 1-19-2-2 3-108 2-14 7 1 63 30 54 23 9 6 29 13 23 5 22 0-63-32-56-33 1 2-3 0-5-6-26-50-6-18-15-65-14-84-2-5-6-2-1-3 36-30 45-31 64-37z"/>
<path fill="#002bff" d="M1286 485l-19-12-25-21-4 1-15-15-31-40-28-52-18-48-7-14-10-34-14-70-14-93-3-7-190 61-236 81-78 30-54 23-41 20-40 24-18 14-14 14-15 20-20 32-12 24-27 74-12 27-38 77-26 46-15 31-2 2-1-3-10 18 0 3 3 6 7 6 23 12 55 21 72 24 666 205 1-19-2-2 3-107 2-14 7 1 63 30 54 23 9 6 28 13 24 5 19 0-64-32-49-29 1 2-2 1-4-3-31-58-9-29-10-44-16-94-3-6-11-3-1-3 41-33 48-32 62-35z"/>
<path fill="#002dff" d="M1283 483l-24-16-17-15-6-1-20-21-29-40-23-44-18-48-7-14-10-34-14-70-14-93-3-7-190 61-236 81-78 30-54 23-41 20-40 24-18 14-14 14-15 20-20 32-12 24-27 74-12 27-38 77-26 46-15 31-2 0 0-3-9 16-1 8 11 11 26 13 116 41 672 207 1-19-2-2 3-106 2-14 7 1 63 30 54 23 14 9 23 10 24 5 16 0-61-30-45-26 0 3-3-1-4-4-33-61-6-18-15-65-15-87-2-3-16-5-1-3 2 0 16-15 26-20 36-24 61-35z"/>
<path fill="#002fff" d="M1280 481l-21-14-21-18-3 1-19-20-29-40-23-44-18-48-7-14-10-34-14-70-14-93-3-7-190 61-236 81-78 30-54 23-41 20-40 24-18 14-14 14-15 20-20 32-12 24-27 74-12 27-38 77-18 31-22 44-2 1-1-2-9 16-1 5 3 6 7 6 25 13 109 39 216 68 465 142 1-19-2-2 3-105 2-14 7 1 63 30 54 23 14 9 20 9 27 6 13 0-52-25-50-28 3 3-4 0-7-8-33-61-6-18-15-65-15-87-2-3-20-6-2-3 43-35 38-25 54-31z"/>
<path fill="#0032ff" d="M1099 80l-191 61-236 81-78 30-54 23-41 20-40 24-18 14-14 14-15 20-20 32-12 24-32 86-45 92-18 31-22 44-2 0 0-3-10 19 2 8 14 11 23 11 92 33 199 63 494 151 1-19-2-2 3-104 2-14 7 1 63 30 54 23 31 17 18 5 22 2-58-28-37-21 2 3-2 1-12-13-33-61-6-18-15-65-15-87-2-3-28-9 1-3 2 0 32-27 48-32 68-38 58-28-18-12-22-19-4 0-17-18-29-40-23-44-18-48-7-14-10-34-11-53z"/>
<path fill="#0034ff" d="M1099 80l-191 61-236 81-78 30-54 23-41 20-40 24-18 14-14 14-15 20-20 32-12 24-27 74-12 27-38 77-18 31-21 42-2 1-1-2-9 17 0 6 3 5 16 11 37 16 111 38 656 202 1-19-2-2 3-103 2-14 7 1 63 30 54 23 31 17 18 5 19 2-62-30-27-15 0 3-3-1-12-15-33-61-6-18-15-65-15-87-2-3-33-11 1-3 1 1 31-26 48-32 70-39 60-29-15-10-24-21-3 1-16-17-29-40-23-44-18-48-7-14-10-34-11-53z"/>
<path fill="#0037ff" d="M1099 80l-191 61-236 81-78 30-54 23-41 20-40 24-18 14-14 14-15 20-20 32-12 24-32 86-45 92-18 31-21 42-2 0 0-3-10 19 2 8 14 11 23 11 122 43 662 204 1-19-2-2 3-102 2-14 7 1 63 30 54 23 26 15 23 7 17 2-23-10-63-33 3 3-4 0-15-18-33-61-6-18-15-65-15-87-2-3-36-11-2-2 34-28 42-28 58-33 79-39-22-16-15-14-3 1-20-22-24-34-23-44-18-48-7-14-10-34-11-53z"/>
<path fill="#0039ff" d="M1099 80l-191 61-236 81-78 30-54 23-41 20-40 24-18 14-14 14-15 20-20 32-12 24-32 86-45 92-18 31-20 40-2 1-1-2-9 17 1 8 11 10 31 15 111 39 239 75 429 131 1-19-2-2 3-101 2-14 7 1 63 30 54 23 26 15 23 7 14 2-80-40 4 4-4 0-6-5-13-17-33-61-6-18-15-65-15-87-2-3-43-14 1-3 6-3 24-20 60-39 49-27 75-36-36-31-3 1-18-20-24-34-23-44-18-48-7-14-10-34-11-53z"/>
<path fill="#003bff" d="M1099 80l-191 61-236 81-78 30-54 23-41 20-40 24-18 14-14 14-15 20-20 32-12 24-32 86-45 92-18 31-20 40-2 0 0-3-9 17-1 5 2 5 12 10 27 13 104 37 206 65 471 144 1-19-2-2 3-100 2-14 7 1 63 30 54 23 26 15 23 7 10 1-73-36 3 3-1 1-5-2-19-23-33-61-6-18-15-65-15-87-2-3-45-14-2-2 37-30 50-32 43-24 87-42-35-30-3 1-21-24-23-34-23-46-11-31-11-24-10-34-11-53z"/>
<path fill="#003eff" d="M1099 80l-191 61-236 81-78 30-54 23-41 20-40 24-18 14-14 14-15 20-20 32-12 24-32 86-45 92-18 31-19 38-2 1-1-2-9 17 1 8 11 10 26 13 50 19 87 29 646 199 1-19-2-2 3-99 2-14 7 1 63 30 54 23 26 15 31 8-68-33 3 3-1 1-5-2-22-26-33-61-6-18-15-65-15-87-2-3-52-17 1-3 5-2 30-24 55-35 63-34 66-31-15-11-19-18-4 0-19-22-23-34-23-46-11-31-11-24-10-34-11-53z"/>
<path fill="#0040ff" d="M1099 80l-191 61-236 81-78 30-54 23-41 20-40 24-18 14-14 14-15 20-20 32-12 24-32 86-45 92-18 31-19 38-2 0 0-3-9 17-1 5 2 5 12 10 29 14 129 45 649 200 1-19-2-2 3-98 2-14 7 1 63 30 54 23 26 15 30 8-65-31 3 3-1 1-5-2-24-28-33-61-6-18-13-55-18-99-57-19 1-3 2 0 31-25 55-35 38-21 94-46-33-29-3 1-18-21-23-34-23-46-11-31-11-24-10-34-11-53z"/>
<path fill="#0043ff" d="M1099 80l-191 61-236 81-78 30-54 23-41 20-40 24-18 14-14 14-15 20-20 32-12 24-32 86-45 92-36 67-3 0 1-3-9 17 0 10 11 10 28 14 125 44 655 202 1-19-2-2 3-97 2-14 7 1 115 53 2-1 19 13 18 7 15 3-59-28 5 4-1 1-7-3-13-13-13-17-33-61-6-18-13-55-18-99-59-19-2-2 38-30 44-28 45-25 96-46-32-29-3 1-17-20-23-34-23-46-11-31-11-24-10-34-11-53z"/>
<path fill="#0045ff" d="M1199 880l3 3-1 1 2-1 12 8 0 2 1-1 18 9 20 5zM1099 80l-191 61-236 81-78 30-54 23-41 20-40 24-18 14-14 14-15 20-20 32-12 24-27 74-12 27-38 77-36 67-2 0 0-3-10 21 3 7 11 9 24 12 47 18 74 25 200 63 461 141 1-19-2-2 3-96 2-14 7 1 109 50-15-14-15-20-31-58-15-54-22-118-65-22 1-3 1 1 30-24 50-32 49-27 94-45-32-29-2 1-16-18-23-34-23-46-11-31-11-24-10-34-11-53z"/>
<path fill="#0047ff" d="M1201 882l14 9 0 2 1-1 18 9 16 4zM1099 80l-191 61-236 81-78 30-54 23-41 20-40 24-18 14-14 14-15 20-20 32-12 24-32 86-45 92-35 65-3 0 1-3-10 20 1 7 14 12 32 15 102 36 222 70 448 137 1-19-2-2 3-95 2-14 7 1 108 50-14-14-15-20-31-58-15-54-22-118-69-23 1-3 31-23 52-33 57-31 86-41-14-11-16-17-3 1-15-17-23-34-23-46-11-31-11-24-10-34-11-53z"/>
<path fill="#004aff" d="M1204 884l9 6 0 2 2-1 0 2 1-1 18 9 15 4zM1099 80l-191 61-236 81-78 30-54 23-41 20-40 24-18 14-14 14-15 20-20 32-12 24-27 74-12 27-38 77-35 65-2 0 0-3-9 18 0 7 2 3 16 12 26 12 48 18 87 29 639 197 1-19-2-2 3-94 2-14 7 1 108 50-14-14-15-20-31-58-15-54-22-118-72-24 1-3 23-18 54-35 47-26 103-49-29-28-4 0-19-23-17-26-23-46-11-31-11-24-10-34-11-53z"/>
<path fill="#004cff" d="M1205 885l7 5-1 1 4 0 0 2 1-1 13 7 17 5zM1099 80l-191 61-236 81-78 30-54 23-41 20-40 24-18 14-14 14-15 20-20 32-12 24-32 86-45 92-34 63-3 0 1-3-10 20 2 8 13 11 27 13 53 20 81 27 642 198 1-19-2-2 3-93 2-14 7 1 108 50-14-14-15-20-31-58-15-54-22-118-74-24-2-2 31-25 63-39 63-33 73-34-29-28-3 1-18-22-17-26-23-46-11-31-11-24-10-34-11-53z"/>
<path fill="#004eff" d="M1208 887l4 3-1 1 4 0 0 2 30 11zM1099 80l-191 61-236 81-78 30-54 23-41 20-40 24-18 14-14 14-15 20-20 32-12 24-27 74-12 27-38 77-34 63-2 0 0-3-9 18 2 10 16 12 28 13 123 43 197 62 452 138-2-35 3-78 2-14 7 1 108 50-14-14-15-20-31-58-15-54-22-118-80-27 1-3 1 1 38-29 58-35 72-37 62-28-28-28-3 1-26-34-28-52-18-48-7-14-10-34-11-53z"/>
<path fill="#0051ff" d="M1211 889l0 2 2-1 2 3 27 10zM1099 80l-191 61-236 81-78 30-54 23-41 20-40 24-18 14-14 14-15 20-20 32-12 24-32 86-45 92-33 61-3 0 1-3-10 20 2 8 13 11 29 14 119 42 229 72 426 130-2-34 3-78 2-14 7 1 108 50-14-14-15-20-31-58-15-54-22-118-84-28 1-3 29-21 56-35 89-46 59-27-27-27-4 0-29-40-23-44-18-48-7-14-10-34-11-53z"/>
<path fill="#0053ff" d="M1211 891l30 12-26-12zM1099 80l-191 61-236 81-78 30-54 23-41 20-40 24-18 14-14 14-15 20-20 32-12 24-27 74-12 27-38 77-33 61-2 0 0-3-9 18 2 10 14 11 25 12 112 40 251 79 413 126-2-33 3-78 2-14 7 1 108 50-14-14-15-20-31-58-15-54-22-118-87-29 1-3 27-20 63-39 57-30 87-40-27-28-2 1-5-5-24-34-23-44-18-48-7-14-10-34-11-53z"/>
<path fill="#0056ff" d="M1099 80l-191 61-236 81-78 30-54 23-41 20-40 24-18 14-14 14-15 20-20 32-12 24-32 86-45 92-33 60-2-2 1-2-10 20 2 8 13 11 24 12 99 36 237 75 442 135-2-32 3-78 2-14 7 1 108 50-14-14-15-20-31-58-15-54-22-118-91-30 1-3 23-17 64-40 69-36 81-37-19-18-7-9-3 1-28-38-23-44-18-48-7-14-10-34-11-53z"/>
<path fill="#0058ff" d="M1099 80l-191 61-236 81-78 30-54 23-41 20-40 24-18 14-14 14-15 20-20 32-12 24-27 74-12 27-38 77-32 59-2 0 0-3-9 18 2 10 14 11 27 13 56 21 81 27 636 196 0-19-2-2 3-88 2-14 7 1 108 50-14-14-15-20-31-58-15-54-22-118-94-31 1-3 24-18 68-42 68-35 78-35-25-27-4 0-26-36-23-44-18-48-7-14-10-34-11-53z"/>
<path fill="#005aff" d="M1099 80l-191 61-236 81-78 30-54 23-41 20-40 24-18 14-14 14-15 20-20 32-12 24-32 86-45 92-31 57-2 0 0-3-9 18-1 6 2 4 16 13 35 16 124 43 639 197 0-19-2-2 3-87 2-14 7 1 108 50-14-14-15-20-31-58-15-54-22-118-96-31-2-2 17-14 34-23 41-24 70-36 79-36-25-27-4 0-24-34-23-44-18-48-7-14-10-34-11-53z"/>
<path fill="#005dff" d="M1099 80l-191 61-236 81-78 30-54 23-41 20-40 24-18 14-14 14-15 20-20 32-12 24-27 74-12 27-38 77-31 57-2 0 0-3-9 18 2 10 12 10 31 15 125 44 255 80 390 119 0-19-2-2 3-86 2-14 7 1 108 50-14-14-15-20-31-58-15-54-22-118-99-32-2-2 22-18 24-16 53-31 82-41 62-27-25-27-2 1-5-5-20-29-23-44-18-48-7-14-10-34-11-53z"/>
<path fill="#005fff" d="M1099 80l-191 61-236 81-78 30-54 23-41 20-40 24-18 14-14 14-15 20-20 32-12 24-32 86-45 92-30 55-2 0 0-3-9 18-1 5 2 5 11 10 30 15 118 42 222 70 432 132 0-19-2-2 3-85 2-14 7 1 108 50-14-14-15-20-31-58-15-54-22-118-105-35 1-3 1 1 43-31 53-31 63-32 84-38-24-27-3 1-26-37-20-39-18-48-7-14-10-34-11-53z"/>
<path fill="#0062ff" d="M1099 80l-191 61-236 81-78 30-54 23-41 20-40 24-18 14-14 14-15 20-20 32-12 24-27 74-12 27-38 77-30 55-2 0 0-3-9 18 2 10 17 13 28 13 101 36 247 78 419 128 0-19-2-2 3-84 2-14 7 1 41 20 67 30-3 1-32-14 57 25-22-10 0-2-22-24-12-18-26-50-15-54-22-118-108-36 1-3 1 1 32-24 64-38 78-39 71-31-24-27-3 1-25-36-20-39-18-48-7-14-10-34-11-53z"/>
<path fill="#0064ff" d="M1184 878l3-1 5 3-3 1zM1099 80l-191 61-236 81-78 30-54 23-41 20-40 24-18 14-14 14-15 20-20 32-12 24-32 86-45 92-29 53-2 0 0-3-9 18-1 5 2 5 14 12 29 14 56 21 87 29 626 193 0-19-2-2 3-83 2-14 7 1 99 46-3 1-32-14 66 29-8-5-14-5 0-2-22-24-12-18-26-50-15-54-22-118-112-37 1-3 3 0 37-27 60-35 72-36 76-34-23-26-4 0-23-34-20-39-18-48-7-14-10-34-11-53z"/>
<path fill="#0066ff" d="M1177 875l3-1 3 2-3 1zM1099 80l-191 61-236 81-78 30-54 23-41 20-40 24-18 14-14 14-15 20-20 32-12 24-27 74-12 27-38 77-29 53-2 0 0-3-9 18 2 10 12 10 28 14 64 24 75 25 632 195 0-19-2-2 3-82 2-14 7 1 90 42-3 1-32-14 75 33-21-10-23-26-12-18-26-50-15-54-22-118-115-38 1-3 4-1 36-26 62-36 79-39 69-30-20-23-9-6-20-30-20-39-18-48-7-14-10-34-11-53z"/>
<path fill="#0069ff" d="M1168 871l3-1 3 2-3 1zM1099 80l-191 61-236 81-78 30-54 23-41 20-40 24-18 14-14 14-15 20-20 32-12 24-27 74-12 27-38 77-28 51-2 0 0-3-9 18-1 5 4 8 19 13 24 11 128 45 216 68 422 129 0-19-2-5 3-78 2-14 7 1 81 38-3 1-28-12 80 35-9-6-11-4-24-26-12-18-26-50-15-54-22-118-118-39 1-3 4-1 36-26 66-38 69-34 76-33-22-27-3 1-22-32-20-39-18-48-7-14-10-34-11-53z"/>
<path fill="#006bff" d="M1157 866l3-1 5 3-3 1zM1099 80l-191 61-236 81-78 30-54 23-41 20-40 24-18 14-14 14-15 20-20 32-12 24-27 74-12 27-38 77-28 51-2 0 0-3-9 18 2 10 15 12 27 13 124 44 235 74 409 125 0-19-2-4 3-78 2-14 7 1 72 34-3 1-19-8 80 35-9-6-11-4-24-26-12-18-26-50-15-54-22-118-121-40 1-3 4-1 33-24 60-35 72-36 84-37-21-25-5-1-20-30-20-39-18-48-7-14-10-34-11-53z"/>
<path fill="#006eff" d="M1148 862l3-1 3 2-3 1zM1099 80l-191 61-236 81-78 30-54 23-41 20-40 24-18 14-14 14-15 20-20 32-12 24-27 74-12 27-38 77-28 50-1-4-9 18-1 5 4 8 17 12 33 15 105 37 257 81 396 121 0-19-2-3 3-78 2-14 7 1 63 30-3 1-21-9 91 40-21-11-23-25-12-18-26-50-15-54-22-118-124-41 1-3 4-1 38-27 59-34 75-37 79-34-20-24-8-5-17-26-20-39-18-48-7-14-10-34-11-53z"/>
<path fill="#0070ff" d="M1137 857l3-1 5 3-3 1zM1099 80l-191 61-236 81-78 30-54 23-41 20-40 24-18 14-14 14-15 20-20 32-12 24-27 74-12 27-38 77-28 50-1-4-9 18 2 10 15 12 29 14 56 21 90 30 619 191 0-19-2-2 3-78 2-14 7 1 52 25-3 1-23-10 104 46-12-8-9-3-23-25-12-18-26-50-15-54-22-118-127-42 1-3 4-1 35-25 55-32 74-37 88-39-21-26-3 1-19-28-20-39-18-48-7-14-10-34-11-53z"/>
<path fill="#0072ff" d="M1126 852l3-1 5 3-3 1zM1099 80l-191 61-236 81-78 30-54 23-41 20-40 24-18 14-14 14-15 20-20 32-12 24-27 74-12 27-38 77-27 48-1-4-9 18-1 5 4 8 15 11 25 12 64 24 81 27 622 192 1-19-2-1 0-28 4-64 7 1 41 20-3 1-21-10 9 5 104 46-12-8-10-4-22-24-12-18-26-50-15-54-22-118-130-43 1-3 3 0 41-29 56-32 73-36 85-37-20-25-5-1-17-26-20-39-18-48-7-14-10-34-11-53z"/>
<path fill="#0075ff" d="M1126 852l3-1 3 2-3 1zM1099 80l-191 61-236 81-78 30-54 23-41 20-40 24-18 14-14 14-15 20-20 32-12 24-27 74-12 27-38 77-27 48-1-4-9 18 2 10 7 7 13 8 31 14 129 45 229 72 399 122 1-19-2-2 0-26 4-64 7 1 39 19-3 1-23-10 117 52-13-9-9-3-22-24-12-18-26-50-15-54-22-118-130-42-2-2 6-6 32-22 55-32 70-35 97-43-19-23-7-4-15-23-20-39-18-48-7-14-10-34-11-53z"/>
<path fill="#0077ff" d="M1113 846l3-1 5 3-3 1zM1099 80l-191 61-236 81-78 30-54 23-41 20-40 24-18 14-14 14-15 20-20 32-12 24-27 74-12 27-38 77-26 46-1-3-9 17-1 5 4 8 13 10 29 14 50 19 80 27 248 78 386 118 1-19-2-2 0-25 4-64 7 1 28 14-3 1-25-12 13 7 117 52-13-9-10-4-21-23-12-18-26-50-15-54-22-118-130-42-5-3 40-29 61-35 80-39 81-35-18-22-7-4-15-23-20-39-18-48-7-14-10-34-11-53z"/>
<path fill="#007aff" d="M1100 840l3-1 7 4-3 1zM1099 80l-191 61-236 81-78 30-54 23-41 20-40 24-18 14-14 14-15 20-20 32-12 24-27 74-12 27-38 77-26 46-1-3-8 15-1 8 2 4 13 11 28 14 55 21 68 23 270 85 373 114 1-19-2-2 0-24 4-64 7 1 14 7 0 2-18-7 134 60-16-11-8-3-20-22-12-18-26-50-15-54-22-118-130-42-8-4 34-25 60-35 92-45 78-33-20-25-3 0-4-4-12-19-20-39-18-48-7-14-10-34-11-53z"/>
<path fill="#007cff" d="M1100 840l3-1 3 2-3 1zM1099 80l-191 61-236 81-78 30-54 23-41 20-40 24-18 14-14 14-15 20-20 32-12 24-27 74-12 27-38 77-24 44-2 0 0-3-9 17-1 5 4 8 20 14 24 11 106 38 240 76 415 127 1-19-2-2 0-23 4-64 7 1 10 5 0 2-14-5 134 60-16-11-8-3-20-22-12-18-26-50-15-54-22-118-130-42-11-5 44-31 62-35 92-44 67-28-18-24-7-4-17-28-15-30-18-48-7-14-10-34-11-53z"/>
<path fill="#007eff" d="M1083 832l3-1 7 4-3 1zM1099 80l-191 61-236 81-78 30-54 23-41 20-40 24-18 14-14 14-15 20-20 32-12 24-27 74-12 27-38 77-25 44-1-3-8 15-1 8 2 4 16 13 27 13 61 23 90 30 612 189 1-19-2-2 0-22 4-64 5 1-3 1 44 21 90 39-16-11-8-3-19-21-12-18-26-50-15-54-22-118-143-47 1-3 36-25 61-35 69-34 99-43-19-25-3 1-19-30-15-30-18-48-7-14-10-34-11-53z"/>
<path fill="#0084ff" d="M1083 832l3-1 3 2-3 1zM1099 80l-191 61-236 81-78 30-54 23-41 20-40 24-18 14-14 14-15 20-20 32-12 24-27 74-12 27-38 77-23 42-2 0 0-3-9 17-1 5 3 7 19 14 33 15 135 47 618 191 1-19-2-2 0-21 4-64 3 3 43 20 88 38-15-11-7-2-19-21-12-18-26-50-15-54-22-118-146-48 1-3 38-26 54-31 77-38 98-42-18-24-5-1-17-28-15-30-18-48-7-14-10-34-11-53z"/>
<path fill="#008eff" d="M1099 80l-191 61-236 81-78 30-54 23-41 20-40 24-18 14-14 14-15 20-20 32-12 24-27 74-12 27-38 77-21 38-2 0 0-3-9 17 0 8 2 4 15 12 29 14 61 23 93 31 605 187 1-19-2-2 4-81 3 3 41 19 87 37-16-12-6-2-16-18-12-18-26-50-15-54-22-118-158-52 1-3 3 0 37-26 76-42 90-42 68-28-16-23-6-3-13-22-15-30-18-48-7-14-10-34-11-53z"/>
<path fill="#0097ff" d="M1099 80l-191 61-236 81-78 30-54 23-41 20-40 24-18 14-14 14-15 20-20 32-12 24-27 74-12 27-38 77-19 34-2 0 0-3-9 17 0 8 2 4 10 9 31 16 89 33 215 69 456 140 1-19-2-2 4-77 3 3 125 54-16-13-6-2-13-15-12-18-26-50-15-54-22-118-130-42-38-14 35-25 56-32 91-44 99-42-16-23-5-2-10-17-18-37-27-70-16-72z"/>
<path fill="#00a1ff" d="M1099 80l-191 61-236 81-78 30-54 23-41 20-40 24-18 14-14 14-15 20-20 32-12 24-27 74-12 27-38 77-18 31-1-1 1-4-10 19 0 7 2 4 13 11 23 12 87 33 230 74 446 137 1-19-2-2 4-73 37 18 88 37-16-14-6-2-10-12-12-18-26-50-15-54-22-118-179-59 1-3 3 0 25-18 57-33 86-42 116-49-15-23-5-2-25-49-27-70-16-72z"/>
<path fill="#00abff" d="M1099 80l-191 61-236 81-78 30-54 23-41 20-40 24-18 14-14 14-15 20-20 32-12 24-27 74-12 27-38 77-14 25-2 0 0-3-10 19 0 7 2 4 7 7 22 13 30 13 60 22 242 78 437 134 0-19-2-2 4-70 3 3 118 50-15-14-4-1-14-17-33-61-15-54-22-118-188-62 1-3 30-20 54-31 91-44 118-49-15-23-5-2-19-37-30-77-16-72z"/>
<path fill="#00b4ff" d="M1099 80l-191 61-236 81-78 30-54 23-41 20-40 24-18 14-14 14-15 20-20 32-12 24-27 74-12 27-49 97-2 2-1-3-10 18 0 7 2 4 14 12 21 11 83 32 219 71 459 141 0-20-2-2 4-66 16 9 101 42-14-14-5-2-10-13-33-61-15-54-22-118-196-64-2-2 51-34 74-39 79-36 96-39-14-23-3 0-18-34-30-77-16-72z"/>
<path fill="#00beff" d="M1099 80l-191 61-236 81-78 30-54 23-41 20-40 24-18 14-14 14-15 20-20 32-12 24-27 74-12 27-49 96-1-4-9 16-1 8 3 6 18 14 29 14 98 36 215 69 433 133 1-19-2-2 0-22 3-42 7 5 107 44-13-14-5-2-8-10-33-61-15-54-22-118-205-67-2-2 5-5 42-27 82-43 94-42 83-33-13-22-5-2-14-28-30-77-16-72z"/>
<path fill="#00c7ff" d="M1099 80l-191 61-236 81-78 30-54 23-41 20-40 24-18 14-14 14-15 20-20 32-12 24-27 74-12 27-46 91-2 0 0-3-10 19 0 5 3 6 16 13 26 13 96 36 275 88 378 116 1-19-2-2 0-18 3-43 3 3 108 44-12-14-5-2-6-7-33-61-15-54-22-118-217-72 1-3 3 0 42-28 80-42 82-37 105-42-13-22-5-3-11-22-30-77-16-72z"/>
<path fill="#00d1ff" d="M1099 80l-191 61-236 81-78 30-54 23-41 20-40 24-18 14-14 14-15 20-20 32-12 24-27 74-12 27-44 87-1-4-10 18-1 6 3 7 16 13 21 11 97 37 191 62 464 143 1-19-2-2 3-58 18 9 90 36-22-23-31-58-15-54-22-118-226-75 1-3 3 0 49-32 63-33 107-48 95-38-12-23-2 1-11-20-30-77-16-72z"/>
<path fill="#00daff" d="M1099 80l-191 61-236 81-78 30-54 23-41 20-40 24-18 14-14 14-15 20-20 32-12 24-32 86-45 92-4 6-1-4-10 19 0 8 3 5 18 14 22 11 92 35 200 65 454 140 1-19-2-2 3-56 5 4 100 40-10-13-6-3-34-62-15-54-22-118-235-78 1-3 3 0 46-30 77-40 78-35 119-48-11-22-4-1-7-14-30-77-16-72z"/>
<path fill="#00e4ff" d="M1099 80l-191 61-236 81-78 30-54 23-41 20-40 24-18 14-14 14-15 20-20 32-12 24-32 86-45 92-2 2-1-3-10 18 0 7 4 7 12 10 31 16 87 33 225 73 425 131 4 0 0-19-2-1 3-53 36 16 67 26-22-25-26-50-15-54-22-118-241-79-2-2 11-9 35-22 83-43 88-39 113-45-11-21-5-3-34-85-16-72z"/>
<path fill="#00edff" d="M1099 80l-191 61-236 81-78 30-54 23-41 20-40 24-18 14-14 14-15 20-20 32-12 24-32 86-44 90-2 0 0-3-9 16-1 8 4 8 12 10 33 17 53 21 69 24 196 63 419 129 0-20-2-3 3-49 16 8 84 33-10-14-9-8-26-50-15-54-16-83-4-30-3-6-129-41-121-41 0-2 51-33 78-40 98-43 108-42-11-23-2 1-4-6-30-77-16-72z"/>
<path fill="#00f7ff" d="M1099 80l-191 61-236 81-78 30-54 23-41 20-40 24-18 14-14 14-15 20-20 32-12 24-32 86-42 86-2 0 0-3-9 17-1 6 2 6 11 11 31 17 36 15 81 29 230 74 393 121 1-19-2-2 1-47 2-2 5 4 92 36-11-16-6-3-26-50-15-54-16-83-4-30-3-6-129-41-130-44 1-3 44-28 83-43 103-45 111-43-11-22-4-1-30-77-16-72z"/>
<path fill="#02fffd" d="M1099 80l-191 61-236 81-78 30-54 23-41 20-40 24-18 14-14 14-15 20-20 32-12 24-32 86-40 82-2 0 0-3-9 17 0 9 7 10 11 8 29 15 39 16 67 24 245 79 383 118 1-19-2-2 1-43 2-4 5 4 89 34-10-15-5-2-25-48-6-18-15-65-14-84-3-6-129-41-139-47 1-3 4-1 41-27 77-40 112-49 113-44-10-22-3 0-13-34-11-24-8-26-13-61z"/>
<path fill="#0bfff4" d="M1099 80l-191 61-236 81-78 30-54 23-41 20-40 24-18 14-14 14-15 20-20 32-12 24-32 86-38 78-2 0 0-3-9 18 0 8 2 4 10 10 30 17 38 16 69 25 222 72 408 126 1-19-2-2 1-39 2-6 3 3 89 34-10-15-5-3-23-44-6-18-15-65-14-84-3-6-129-41-147-50 1-3 1 1 53-34 77-39 99-43 123-48-10-21-2 0-3-4-9-26-11-24-8-26-13-61z"/>
<path fill="#15ffea" d="M1099 80l-191 61-236 81-78 30-54 23-41 20-31 18-21 15-20 19-15 20-20 32-12 24-32 86-36 74-2 0 0-3-9 18 2 12 14 13 30 16 41 17 61 22 196 64 430 133 3 0 1-5-2-26 1-24 2-8 3 3 86 33-9-16-5-3-16-30-11-28-15-65-14-84-3-6-129-41-150-50-5-3 1-3 3 0 46-30 74-38 103-45 133-51-10-22-2 0-3-4-7-21-11-24-8-26-13-61z"/>
<path fill="#1effe1" d="M1099 80l-191 61-236 81-78 30-54 23-41 20-31 18-21 15-20 19-15 20-20 32-12 24-32 86-34 70-2 0 0-3-8 16-1 9 2 5 11 11 26 15 37 16 68 25 227 74 401 124 4-1 0-18-2-1 3-41 19 9 68 25-8-14-5-3-15-28-11-28-15-65-14-84-3-6-129-41-162-55 0-2 41-27 87-45 99-43 137-53-9-22-2 1-3-5-5-16-11-24-8-26-13-61z"/>
<path fill="#28ffd7" d="M1099 80l-191 61-236 81-78 30-54 23-41 20-31 18-21 15-20 19-15 20-20 32-12 24-32 86-32 66-2 0 0-3-8 16-1 9 2 5 15 14 30 16 41 17 81 29 210 68 395 122 0-20-2-1 3-39 85 33-8-15-5-3-13-24-11-28-15-65-14-84-3-6-129-41-171-58 1-3 3 0 16-12 33-20 90-45 116-49 112-42-8-21-4-1-5-16-11-24-8-26-13-61z"/>
<path fill="#31ffce" d="M1099 80l-191 61-236 81-78 30-54 23-41 20-31 18-21 15-20 19-15 20-20 32-12 24-32 86-30 62-2 0 0-3-8 16-1 9 2 5 8 9 10 7 33 17 106 40 228 74 385 119 1-19-2-2 0-23 2-15 8 5 75 28-8-16-5-3-11-20-11-28-15-65-14-84-3-6-129-41-150-50-28-11 26-19 34-20 83-41 124-52 109-41-8-21-4-2-14-34-8-26-13-61z"/>
<path fill="#3bffc4" d="M1099 80l-191 61-236 81-78 30-54 23-41 20-31 18-21 15-20 19-15 20-20 32-12 24-32 86-28 58-2 0 0-3-8 16-1 9 2 5 13 13 33 18 46 19 61 22 224 73 391 121 1-19-2-2 0-19 2-17 4 3 77 28-8-16-5-3-9-16-11-28-15-65-14-84-3-6-129-41-185-63 0-2 51-33 79-40 95-41 156-60-8-21-3 0-13-31-8-26-13-61z"/>
<path fill="#45ffba" d="M1099 80l-191 61-236 81-78 30-54 23-41 20-31 18-21 15-20 19-15 20-20 32-12 24-32 86-26 53-2 0 0-3-8 17-1 10 3 6 12 11 26 15 47 20 63 23 198 65 419 130 1-19-2-2 0-15 2-20 8 5 71 26-7-15-5-3-8-14-11-28-15-65-14-84-3-6-129-41-150-50-43-16 1-3 1 1 25-18 27-16 86-43 124-52 123-46-6-18-5-4-11-26-10-34-11-53z"/>
<path fill="#4effb1" d="M1099 80l-191 61-236 81-78 30-54 23-41 20-31 18-21 15-20 19-15 20-20 32-12 24-32 86-24 49-2 2-1-1 1-4-9 19 0 8 3 6 19 16 27 14 46 19 78 28 241 78 349 108 3 0 1-19-2-1 2-33 78 30-8-16-5-3-6-10-11-28-15-65-14-84-3-6-129-41-200-68 1-3 43-28 90-46 136-57 122-45-7-22-2 1-2-2-9-21-10-34-11-53z"/>
<path fill="#58ffa7" d="M1099 80l-191 61-236 81-78 30-54 23-41 20-31 18-21 15-20 19-15 20-20 32-12 24-32 86-23 47-2 0 1-5-9 19 1 11 5 7 11 9 27 15 50 21 49 18 225 74 396 122 1-2 0-17-2-1 1-28 2-4 8 5 67 24-8-16-3-1-6-8-11-28-15-65-14-84-3-6-129-41-208-71 1-3 3 0 25-18 27-16 93-46 123-51 127-47-8-22-2 1-2-2-7-16-10-34-11-53z"/>
<path fill="#61ff9e" d="M1099 80l-191 61-236 81-78 30-54 23-41 20-31 18-21 15-20 19-15 20-20 32-12 24-32 86-21 43-2 0 0-3-8 17 0 8 2 5 7 8 14 10 29 15 41 17 66 24 198 65 406 126 0-20-2-1 1-24 2-6 73 28-7-15-8-7-11-28-15-65-14-84-3-6-129-41-214-73 0-2 47-31 93-47 127-53 136-50-8-22-3 0-6-13-10-34-11-53z"/>
<path fill="#6bff94" d="M1099 80l-191 61-236 81-78 30-54 23-41 20-31 18-21 15-20 19-15 20-20 32-12 24-32 86-19 39-2 0 0-3-7 14-1 12 2 4 13 13 32 18 40 17 68 25 232 76 374 116 1-19-2-2 0-20 2-9 4 3 67 24-8-16-5-2-11-28-15-65-14-84-3-6-279-91-71-26 1-3 1 1 11-9 38-24 92-46 125-52 141-52-9-22-2 1-5-9-10-34-11-53z"/>
<path fill="#74ff8b" d="M1099 80l-191 61-236 81-78 30-54 23-41 20-31 18-21 15-20 19-15 20-20 32-12 24-32 86-17 35-2 0 0-3-8 16 0 10 3 6 16 14 34 18 98 38 225 74 383 119 1-20-2-1 0-16 2-12 9 5 61 22-8-15-6-4-9-24-15-65-14-84-3-6-129-41-150-50-78-28 1-3 56-36 89-44 123-51 145-53-9-22-2 0-3-4-10-34-11-53z"/>
<path fill="#7eff81" d="M1099 80l-191 61-236 81-78 30-54 23-41 20-31 18-21 15-20 19-15 20-20 32-12 24-32 86-15 31-2 0 0-3-8 16-1 6 2 7 12 13 35 20 50 21 49 18 218 72 389 121 3 0 1-19-2-1 2-27 3 3 65 23-8-14-5-3-8-22-15-65-14-84-3-6-279-91-86-31 1-3 3 0 29-21 29-17 79-39 130-54 149-55-9-22-2 1-2-3-9-31-11-53z"/>
<path fill="#87ff78" d="M1099 80l-191 61-236 81-78 30-54 23-41 20-31 18-21 15-20 19-15 20-20 32-12 24-32 86-13 27-2 0 0-3-8 16-1 7 3 8 6 7 15 11 33 17 107 41 213 70 379 117 1-19-2-1 2-25 66 25-8-15-5-3-9-29-16-75-10-63-3-6-279-91-86-30-7-4 18-14 37-23 84-42 130-54 156-57-8-21-4-2-11-41z"/>
<path fill="#91ff6e" d="M1099 80l-191 61-236 81-123 49-73 37-29 20-20 19-31 45-16 31-32 86-11 23-2 0 0-3-8 16-1 7 3 8 16 15 33 18 53 22 55 20 225 74 367 114 3-2 0-17-2-1 2-24 9 5 56 20-9-16-4-2-8-26-16-75-10-63-3-6-279-91-100-36 1-3 45-30 25-14 68-33 133-55 159-58-9-22-2 1-2-3-9-35z"/>
<path fill="#9bff64" d="M1099 80l-191 61-236 81-123 49-73 37-29 20-20 19-31 45-16 31-32 86-9 19-2 0 0-3-8 16-1 8 3 7 9 10 13 9 33 17 98 38 196 65 401 125 1-20-3-1 2-22 62 23-7-15-5-5-6-20-16-75-10-63-3-6-279-91-109-39 1-3 19-13 43-26 45-23 55-25 124-50 150-54-7-21-4-2-8-32z"/>
<path fill="#a4ff5b" d="M1099 80l-191 61-236 81-123 49-73 37-29 20-20 19-31 45-16 31-32 86-7 15-2 0 0-4-8 17-1 8 3 7 14 14 36 20 40 17 62 23 230 76 363 113 3 0 1-19-2-1 0-19 2-2 8 5 51 18-6-15-5-5-8-29-13-63-10-63-3-6-279-91-117-42 1-3 53-34 48-25 50-23 136-55 156-56-7-19-4-3-7-28z"/>
<path fill="#aeff51" d="M1099 80l-191 61-236 81-123 49-73 37-29 20-20 19-31 45-16 31-32 86-5 10-2 0 0-3-8 17-1 8 4 9 17 15 38 20 109 42 203 67 378 117 1-19-2-1 0-15 2-4 4 3 54 19-7-17-4-3-7-26-13-63-10-63-3-6-279-91-125-45 1-3 4-1 26-19 27-16 55-28 42-19 121-49 173-62-6-22-2 1-7-25z"/>
<path fill="#b7ff48" d="M1099 80l-191 61-236 81-123 49-73 37-29 20-20 19-31 45-16 31-32 86-4 7-1-4-8 17-1 8 2 6 12 13 22 14 48 22 66 25 182 61 413 129 2 0 1-19-2-1 0-11 2-7 9 5 47 16-6-17-4-2-6-23-13-63-10-63-3-6-279-91-132-48 1-3 1 1 21-16 33-20 90-44 149-60 160-57-6-21-3 0-5-20z"/>
<path fill="#c1ff3e" d="M1099 80l-191 61-236 81-123 49-73 37-29 20-20 19-31 45-16 31-32 86-3 4 0-5-8 17-1 8 2 6 7 9 23 16 37 18 58 23 185 63 431 135 2 0 1-19-2-1 2-17 3 3 51 17-5-16-4-3-18-82-10-63-3-6-279-91-139-50 1-3 18-13 41-25 89-43 147-59 164-58-5-21-4-3z"/>
<path fill="#caff35" d="M1099 80l-191 61-236 81-123 49-73 37-29 20-20 19-31 45-16 31-32 86-2 0 0-4-6 13-2 11 3 8 13 13 39 22 93 37 175 59 418 131 3 0 0-19-2-1 2-16 3 3 50 17-5-17-4-3-17-78-10-63-3-6-279-91-146-53 1-3 1 1 18-14 32-20 52-27 46-21 121-49 195-70-5-20-3-1-3-11z"/>
<path fill="#d4ff2b" d="M1099 80l-191 61-236 81-123 49-73 37-29 20-20 19-31 45-16 31-30 81-2 0 0-4-7 16-1 10 3 7 14 14 27 16 45 20 47 18 167 57 265 84 174 53 0-35 9 5 43 15-5-17-4-3-16-75-10-63-3-6-279-91-152-55 1-3 15-11 38-24 44-23 50-23 150-60 173-61-5-21-3 0z"/>
<path fill="#deff21" d="M1099 80l-191 61-236 81-123 49-73 37-29 20-20 19-31 45-16 31-27 74-3 5-1-4-6 14-1 11 4 8 20 17 34 18 85 34 174 59 421 132 2 0 1-19-2-1 1-14 4 3 47 16-5-17-4-3-15-71-10-63-3-6-279-91-119-42-39-16 18-15 40-25 53-27 49-22 155-61 160-56-4-21-4-3-8-40z"/>
<path fill="#e7ff18" d="M1099 80l-191 61-236 81-123 49-73 37-29 20-20 19-28 40-19 36-27 74-2 0 0-4-7 17 0 9 2 5 6 8 22 16 36 18 44 18 103 37 218 71 307 95 1-19-2-1 1-13 10 5 39 13-4-17-4-3-20-100-4-30-3-6-279-91-165-60 1-3 3 0 17-14 35-22 46-24 55-25 157-62 166-58 1-4-4-17-2 0-2-4-7-35z"/>
<path fill="#f1ff0e" d="M1099 80l-191 61-236 81-123 49-73 37-29 20-20 19-28 40-19 36-24 66-3 4-1-3-6 15-1 7 2 7 11 13 21 14 30 15 51 21 89 32 239 78 294 91 1-19-2-1 1-12 2 0 0 2 46 15-4-17-4-3-19-96-4-30-3-6-279-91-119-42-51-20 1-3 17-13 29-19 63-33 42-19 143-57 190-67-4-21-3 0-7-34z"/>
<path fill="#faff05" d="M1099 80l-191 61-236 81-123 49-73 37-29 20-20 19-31 45-16 31-24 66-2 0 0-4-6 15-1 10 4 9 11 11 20 13 35 17 44 18 115 41 225 73 279 87 3-2 0-17-2-1 0-8 2-3 46 17-3-14-4-5-19-94-4-30-3-6-279-91-172-62-4-3 23-19 30-19 93-46 150-60 194-68-4-21-3 0-6-30z"/>
<path fill="#fffa00" d="M1099 80l-191 61-214 73-117 45-52 23-37 19-29 18-18 14-14 14-23 32-24 44-22 61-2 1-1-2-6 15 0 9 3 7 14 14 21 13 31 15 44 18 97 35 192 63 332 103 0-19-2-1 2-11 3 3 43 15-5-18-3-2-18-90-4-30-3-6-279-91-119-42-63-25 1-3 1 1 22-18 35-22 34-18 63-29 160-63 178-62 1-4-4-17-3-1z"/>
<path fill="#fff100" d="M1099 80l-191 61-214 73-117 45-52 23-37 19-29 18-18 14-14 14-23 32-24 44-21 58-2 0 0-4-7 20 3 12 13 14 17 11 23 12 44 19 101 37 166 55 366 114 1-19-3-1 2-10 12 6 32 10-3-15-4-3-17-87-4-30-3-6-279-91-119-42-69-27 1-3 5-2 19-16 28-18 45-24 52-24 80-33 79-30 191-67-3-18-4-4z"/>
<path fill="#ffe700" d="M1099 80l-191 61-214 73-117 45-52 23-37 19-29 18-18 14-14 14-23 32-24 44-19 53-2 2-1-3-6 16 0 8 3 7 10 11 19 13 62 29 97 36 162 54 378 118 0-29 43 16-3-16-4-3-16-83-4-30-3-6-279-91-119-42-74-29 1-3 2 0 18-16 32-21 47-25 50-23 151-60 203-71-3-19-4-4z"/>
<path fill="#ffde00" d="M1099 80l-191 61-214 73-117 45-52 23-37 19-29 18-18 14-14 14-23 32-24 44-18 50-2 0 0-4-7 20 1 8 3 6 12 12 18 12 60 28 111 41 163 54 362 113 1-19-2-1 1-9 3 3 39 13-3-16-4-4-15-78-4-30-3-6-129-41-182-61-106-38-60-24 1-3 19-16 40-26 38-20 59-27 86-35 80-30 185-64-3-20-3-1z"/>
<path fill="#ffd400" d="M1099 80l-191 61-214 73-117 45-52 23-37 19-29 18-18 14-14 14-23 32-24 44-16 45-2 2-1-3-6 16 0 8 3 7 11 12 11 8 63 31 90 34 139 47 411 129 1-19-2-1 1-8 4 3 38 13-4-18-3-1-19-106-3-6-129-41-182-61-114-41-58-24 1-3 1 1 18-16 36-24 64-33 38-17 158-62 198-69-4-20-3 0z"/>
<path fill="#ffca00" d="M1099 80l-191 61-214 73-117 45-52 23-37 19-29 18-18 14-14 14-23 32-24 44-15 42-2 0 0-4-7 21 4 13 8 9 18 13 58 28 101 38 152 51 386 121 1-19-2-1 1-7 41 15-4-18-3-1-18-102-3-6-129-41-182-61-114-41-63-26 1-3 1 1 29-25 32-20 86-42 151-60 218-76-4-20-3 0z"/>
<path fill="#ffc100" d="M1099 80l-191 61-214 73-117 45-52 23-37 19-29 18-18 14-14 14-23 32-24 44-13 37-2 2-1-3-4 10-2 14 4 9 11 11 23 15 61 28 100 37 159 53 368 115 0-19-2-1 1-6 40 14-3-15-4-4-17-98-3-6-129-41-182-61-114-41-68-28 1-3 1 1 20-19 36-24 58-30 103-44 103-39 200-69-4-20-3-1z"/>
<path fill="#ffb700" d="M1099 80l-191 61-214 73-117 45-52 23-37 19-29 18-18 14-14 14-15 20-16 25-16 31-12 34-2 0 0-4-7 21 4 13 10 11 19 13 61 29 99 37 152 51 380 119 0-19-2-1 2-6 3 3 35 11-3-16-4-3-16-94-3-6-129-41-182-61-114-41-73-30 0-2 2 0 18-18 30-21 28-16 69-33 85-35 74-28 141-50 79-26-3-18-4-5z"/>
<path fill="#ffae00" d="M1099 80l-191 61-214 73-117 45-52 23-37 19-29 18-18 14-14 14-15 20-16 25-16 31-11 31-2 0 0-4-6 17 0 8 4 9 13 13 17 11 59 28 76 29 153 52 401 126 0-25 4 3 33 11-3-17-4-4-15-89-3-6-129-41-182-61-114-41-78-32 0-2 18-17 34-24 58-31 51-23 159-62 209-72 1-4-3-16-3-1z"/>
<path fill="#ffa400" d="M1099 80l-191 61-214 73-117 45-78 36-31 18-21 15-20 19-10 13-25 39-12 24-9 26-2 0 0-4-7 21 4 13 11 12 19 13 59 28 104 39 149 50 376 118 1-19-2-1 1-5 3 3 33 11-3-17-4-5-14-84-3-6-129-41-182-61-114-41-83-34 0-2 21-20 33-23 38-21 60-28 152-60 144-51 85-28 1-5-3-16-3 0z"/>
<path fill="#ff9b00" d="M1099 80l-191 61-214 73-117 45-78 36-31 18-21 15-20 19-10 13-25 39-12 24-8 23-2 0 0-4-6 17 2 14 11 13 17 12 50 25 93 36 153 52 394 124 0-24 4 3 32 10-4-17-3-2-14-83-3-6-129-41-182-61-114-41-88-36 0-2 18-18 33-24 26-15 73-35 149-59 135-48 105-35-4-20-3-1z"/>
<path fill="#ff9100" d="M1099 80l-191 61-214 73-117 45-78 36-31 18-21 15-20 19-10 13-25 39-12 24-6 17-2 0 0-3-7 20 3 13 18 18 37 21 56 24 107 39 194 64 303 95 2-4-1-19 35 13-3-16-4-5-13-78-3-6-129-41-202-68-120-44-61-25-6-4 0-2 2 0 19-20 29-21 33-19 65-31 75-31 90-34 230-79-3-18-4-5z"/>
<path fill="#ff8700" d="M1099 80l-191 61-214 73-117 45-78 36-40 24-18 14-18 19-31 47-12 24-5 15-2 0 0-4-6 17 0 9 3 7 12 13 16 11 39 20 53 22 117 42 189 62 289 90-1-23 4 3 30 10-3-18-2 0-2-4-12-73-3-6-129-41-202-68-120-44-71-30 5-8 18-18 28-20 37-21 57-27 151-60 141-50 109-36-3-20-3-1z"/>
<path fill="#ff7e00" d="M1083 703l2-2 2 1-1 2zM1099 80l-191 61-214 73-117 45-78 36-40 24-18 14-18 19-27 40-19 40-2 0 0-3-7 20 1 9 3 6 9 10 15 11 42 22 58 24 97 35 194 64 298 93 0-18 2-2 30 10-2-14-5-9-11-68-3-6-129-41-202-68-120-44-61-25-15-8 0-2 3-1 16-19 34-25 26-15 71-34 65-27 120-45 215-73-3-21-3 0z"/>
<path fill="#ff7400" d="M1099 80l-191 61-214 73-117 45-78 36-40 24-18 14-18 19-27 40-18 37-2 0 0-3-6 16 0 11 4 8 20 18 45 24 63 26 112 40 214 70 257 80 0-14 2-5 30 10-3-16-4-4-11-68-3-6-129-41-236-80-121-46-35-15-10-6 9-13 12-12 33-24 28-16 65-31 75-31 93-35 239-82-3-17-4-5z"/>
<path fill="#ff6b00" d="M1099 80l-191 61-214 73-117 45-78 36-40 24-18 14-18 19-27 40-16 33-2 0 0-4-7 19 2 13 4 6 14 13 19 12 30 15 68 28 89 32 172 57 316 99 2-19 29 10-3-17-4-4-10-63-3-6-129-41-236-80-121-46-50-23 10-14 14-14 29-21 39-22 53-25 80-33 96-36 237-81-3-19-3-1z"/>
<path fill="#ff6100" d="M1099 80l-191 61-214 73-117 45-78 36-40 24-18 14-14 14-28 40-17 33-2 0 1-5-8 19 0 11 2 5 11 13 12 9 43 23 60 25 117 42 195 64 271 85 3-18 28 9-3-18-3-1-10-61-3-6-129-41-236-80-121-46-54-25 9-14 17-17 28-20 26-15 69-33 83-34 94-35 235-80-3-20-3-1z"/>
<path fill="#ff5800" d="M1099 80l-191 61-214 73-117 45-78 36-40 24-18 14-14 14-28 40-15 29-2 0 0-3-8 19 0 7 3 8 18 18 21 13 26 13 65 27 100 36 197 65 280 88 2-3 1-15 27 9-2-14-4-5-9-57-3-6-129-41-236-80-121-46-59-27 16-22 25-21 45-27 61-29 70-29 104-39 244-83-2-17-4-5z"/>
<path fill="#ff4e00" d="M1099 80l-191 61-214 73-117 45-78 36-40 24-18 14-14 14-23 32-18 33-2 0 1-5-9 19 0 11 6 11 13 12 24 15 22 11 54 23 101 37 196 65 294 92 1-17 27 9-3-17-4-4-8-52-3-6-129-41-236-80-121-46-63-29 14-21 28-24 36-22 66-32 75-31 107-40 132-46 110-36-2-19-4-5z"/>
<path fill="#ff4500" d="M1099 80l-191 61-169 57-130 48-84 36-57 31-21 15-20 19-23 32-15 27-2 0 0-3-9 18 0 13 5 9 11 11 21 14 23 12 58 25 95 35 189 63 306 96 0-12 2-5 25 9-3-18-4-5-7-46-3-6-129-41-236-80-121-46-67-31 14-22 26-23 41-25 49-24 91-38 99-37 120-42 131-43 1-3-3-18-3 0z"/>
<path fill="#ff3b00" d="M1099 80l-191 61-169 57-130 48-84 36-57 31-21 15-20 19-23 32-13 23-2 0 1-5-10 20-1 9 2 7 7 10 13 11 19 12 30 15 73 30 89 32 181 60 293 92 2-16 24 8-3-18-3-1-7-46-3-6-129-41-236-80-121-46-46-20-25-13 13-22 24-22 38-24 61-30 92-38 97-36 150-52 99-32 1-5-3-16-1 1-2-2z"/>
<path fill="#ff3100" d="M1099 80l-191 61-169 57-130 48-84 36-57 31-21 15-20 19-23 32-10 18-2 0 0-3-11 23 2 12 6 9 15 13 43 24 64 27 99 36 196 65 279 88 3-16 23 8-2-16-4-4-6-41-3-6-129-41-236-80-121-46-46-20-29-15 13-23 25-23 42-26 51-25 76-32 112-42 132-46 128-42-3-18-4-5z"/>
<path fill="#ff2800" d="M1099 80l-191 61-169 57-130 48-84 36-57 31-21 15-20 19-15 20-16 26-2 0 1-4-5 8-7 16 2 12 6 9 15 13 21 13 28 14 65 27 68 25 203 68 291 92 5 0 1-14 23 8-3-18-4-5-5-35-3-6-129-41-236-80-133-51-34-15-32-17 4-11 8-13 26-24 46-28 52-25 77-32 110-41 258-87-3-20-3-1z"/>
<path fill="#ff1e00" d="M1099 80l-191 61-169 57-130 48-84 36-57 31-21 15-20 19-28 41-2 0 0-3-7 12-5 13 2 11 6 9 12 11 33 20 53 24 98 37 215 72 282 89 3-14 21 7-3-18-3-2-5-34-3-6-129-41-236-80-133-51-34-15-36-19 9-21 8-10 18-16 41-26 55-27 84-35 88-33 167-58 114-37-3-20-3-1z"/>
<path fill="#ff1500" d="M1099 80l-191 61-169 57-130 48-84 36-49 26-35 25-18 19-22 33-2 0 1-4-12 21 1 14 7 11 11 10 29 18 59 27 98 37 187 63 306 97 3-14 20 7-2-16-4-4-4-30-3-6-129-41-236-80-133-51-34-15-40-21 0-2 3-1 0-5 6-14 23-24 38-25 58-29 89-37 91-34 132-46 147-48-2-18-4-5z"/>
<path fill="#ff0b00" d="M1099 80l-191 61-169 57-130 48-84 36-49 26-35 25-18 19-19 28-2 0 1-4-6 9-7 15 2 14 8 11 8 7 28 18 58 27 100 38 196 66 297 94 2-13 20 6-3-17-4-5-3-24-3-6-279-91-119-42-114-45-54-26-9-6 4-15 6-11 23-23 37-24 54-27 81-34 107-40 106-37 171-56-2-20-3-1z"/>
<path fill="#ff0200" d="M1099 80l-191 61-169 57-112 41-87 36-64 33-35 25-14 14-21 29-1-1 1-4-9 14-5 13 2 11 4 7 12 12 26 17 62 29 100 38 202 68 287 91 2-12 19 5-3-17-3-2-3-23-3-6-279-91-119-42-114-45-54-26-13-8 8-24 22-24 29-20 60-31 93-39 80-30 155-54 146-48-3-20-1 1-2-2z"/>
<path fill="#f90000" d="M1099 80l-191 61-169 57-112 41-87 36-64 33-35 25-14 14-18 25-1-3 3-5-9 13-7 14 1 13 6 10 9 9 27 18 52 25 98 38 179 61 321 102 2-12 17 6-2-16-4-6-2-17-3-6-279-91-119-42-114-45-54-26-16-10 2-3 1-13 4-9 18-21 34-24 56-29 85-36 107-40 112-39 176-58-2-18-3-2z"/>
<path fill="#f10000" d="M1099 80l-191 61-169 57-112 41-87 36-64 33-35 25-14 14-15 20 0-4-10 14-5 12 1 10 5 9 8 9 29 20 54 26 79 31 204 70 311 99 2-11 17 5-3-18-3-1-2-16-3-6-279-91-138-49-104-42-45-22-19-12 2-3-1-9 6-16 19-21 33-23 63-32 84-35 105-39 151-52 136-44-3-20-3 0z"/>
<path fill="#e90000" d="M1099 80l-191 61-169 57-112 41-87 36-64 33-35 25-14 14-12 16 0-5-11 16-4 9 1 13 5 9 12 12 26 17 45 22 88 35 207 71 305 97 1-11 16 5-2-15-4-5-1-11-3-6-279-91-138-49-115-47-41-21-13-8-3-4 1-2 2 1-1-13 5-13 21-23 32-22 59-30 94-39 106-39 104-36 178-58-2-17-4-6z"/>
<path fill="#e20000" d="M1099 80l-191 61-169 57-112 41-87 36-64 33-35 25-21 23 0-4-14 19-3 7 1 15 13 17 31 21 59 28 85 33 199 68 298 95 2-10 14 4-2-17-3-2-1-8-3-6-279-91-138-49-115-47-41-21-16-10-3-4 1-2 2 1-2-12 3-11 11-16 22-19 49-29 68-31 108-42 139-49 202-66-2-20-3-1z"/>
<path fill="#da0000" d="M1099 80l-142 45-195 65-122 44-91 37-50 24-31 18-27 20-16 17-1-2 5-7-19 24-5 13 1 9 6 11 11 11 29 19 64 30 72 28 207 71 294 93 2-9 14 5-3-18-3-2-3-10-279-91-146-52-107-44-51-27-9-6-3-5 1-2 2 2-2-6 1-14 11-19 24-21 36-22 77-36 105-41 195-68 155-50-2-21-1 1-2-2z"/>
<path fill="#d20000" d="M1104 91l-3-2-3-9-336 110-90 32-95 37-52 23-37 19-29 18-26 22-1-2 7-8-14 14-12 16-5 12 2 13 5 8 12 12 31 20 60 28 77 30 201 69 291 93 3 0 1-8 13 4-2-16-6-10-279-91-146-52-107-44-41-21-24-17 0-2 2 0-2-7 1-16 10-17 17-16 20-14 46-25 68-30 118-45 135-47 191-62 1-5z"/>
<path fill="#cb0000" d="M1103 85l-3 0-1-5-299 97-128 45-123 49-61 30-29 18-11 9-2-1 11-10-12 9-20 19-11 15-3 9 2 13 8 12 10 9 35 22 61 28 75 29 192 66 294 94 2 0 2-8 12 4-3-18-2 0-3-4-129-41-182-61-114-41-87-35-54-26-26-16-8-9 1-2 3 3-3-5-2-10 1-8 5-12 17-19 38-26 43-22 95-40 100-37 224-76 88-28z"/>
<path fill="#c30000" d="M1102 81l-4-1-336 110-122 44-91 37-50 24-22 13-2-1 11-8-41 27-20 19-8 11-3 10 2 12 13 17 34 23 66 31 72 28 185 64 305 97 1-7 11 3-4-18-5 0-309-102-114-41-87-35-54-26-26-16-9-8 0-4 3 3-6-15 0-8 4-12 7-10 13-13 32-22 40-21 59-26 123-47 100-35 235-77z"/>
<path fill="#bb0000" d="M1101 78l-2-1-339 111-122 44-91 37-61 30-41 27-20 19-4 6-3 8 1 14 5 9 14 14 26 17 51 25 64 26 131 47 278 91 102 32 3-6 9 2-1-10-3-6-129-41-182-61-106-38-81-32-34-15-51-27-20-16-6-14 0-12 5-12 19-21 34-23 47-24 78-33 99-37 127-44 206-67z"/>
<path fill="#b40000" d="M1101 78l-2-1-339 111-122 44-91 37-61 30-41 27-15 14-7 12-1 13 2 6 5 8 13 13 29 19 47 23 74 30 167 59 332 107 3-6 8 3-4-13-129-41-182-61-106-38-81-32-68-32-26-16-14-13-7-18 1-11 4-9 9-12 12-11 28-19 46-24 90-38 114-42 201-68 113-36 1-2z"/>
<path fill="#ac0000" d="M1101 78l-2-1-301 98-128 45-95 37-78 36-40 24-14 11-13 16-3 10 2 12 5 9 13 13 32 21 52 25 72 29 123 44 218 72 148 47 2-5 7 2-3-9-129-41-182-61-106-38-81-32-68-32-26-16-15-14-9-19 0-10 3-9 17-21 36-25 49-25 86-36 89-33 239-81 101-32 1-4z"/>
<path fill="#a40000" d="M1101 78l-2-1-301 98-128 45-95 37-78 36-35 21-9 7-15 17-4 12 1 10 6 11 10 11 32 22 44 22 62 26 120 44 191 64 191 61 3 0 1-3 5 1-2-5-129-41-236-80-86-32-61-25-54-26-31-20-18-20-5-13 0-10 8-17 8-9 17-14 38-23 46-22 86-35 113-41 172-58 135-43z"/>
<path fill="#9d0000" d="M1101 78l-2-1-301 98-128 45-95 37-62 28-27 15-19 13-13 12-7 10-3 9 1 13 11 17 27 21 49 26 41 18 77 30 104 37 174 58 167 53 4-2-130-42-236-80-86-32-61-25-54-26-39-26-16-18-5-13 0-9 2-7 8-13 25-22 28-17 77-36 162-61 202-68 123-39z"/></g></g>
<path d="M40.5 190.2L40.5 77.98M40.5 77.98L269 8.98M269 8.98L497 77.98M40.5 77.98L268.5 146.98M268.5 146.98L497 77.98M268.5 259.2L268.5 146.98M497 190.2L497 77.98M40.5 190.2L268.5 259.2M268.5 259.2L497 190.2M40.5 190.2L34.95 191.88M86.1 204L80.55 205.68M131.7 217.8L126.15 219.48M177.3 231.6L171.75 233.28M222.9 245.4L217.35 247.08M268.5 259.2L262.95 260.88M268.5 259.2L274.05 260.88M314.2 245.4L319.75 247.08M359.9 231.6L365.45 233.28M405.6 217.8L411.15 219.48M451.3 204L456.85 205.68M497 190.2L502.55 191.88M40.5 190.2L34.95 188.52M40.5 159.25L34.95 157.57M40.5 128.3L34.95 126.62M40.5 97.35L34.95 95.67" stroke="#303030" stroke-width="1.1" fill="none" stroke-linecap="butt"/>
<text x="68.7" y="216.7" text-anchor="middle">2000</text>
<text x="113.2" y="230.7" text-anchor="middle">4000</text>
<text x="158" y="244.2" text-anchor="middle">6000</text>
<text x="203" y="258" text-anchor="middle">8000</text>
<text x="248.9" y="271.5" text-anchor="middle">10000</text>
<text x="36.9" y="209.3" text-anchor="middle">0</text>
<text x="30.2" y="203" text-anchor="middle">0</text>
<text x="25.5" y="191.2" text-anchor="middle">0</text>
<text x="277.3" y="274.4" text-anchor="middle">0</text>
<text x="324.4" y="260.4" text-anchor="middle">0.5</text>
<text x="368.9" y="246.9" text-anchor="middle">1</text>
<text x="413.1" y="231.6" text-anchor="middle">1.5</text>
<text x="458.1" y="218.1" text-anchor="middle">2</text>
<text x="501.4" y="203.6" text-anchor="middle">2.5</text>
<text x="25.9" y="158.8" text-anchor="middle">50</text>
<text x="25.9" y="126.7" text-anchor="middle">100</text>
<text x="25.9" y="94.5" text-anchor="middle">150</text>
<text class="s" text-anchor="middle" textLength="164" transform="translate(15.8,143.4) rotate(-90)">Transmittance(V/B in dBV/T)</text>
<text class="s" textLength="158" transform="translate(42.1,228.4) rotate(16.5)" x="0" y="0">Frequency of search coil(Hz)</text>
<text class="s" textLength="136.3" transform="translate(338,269.4) rotate(-14.65)" x="0" y="0">Weight of search coil(kg)</text>
<rect x="512.5" y="9.5" width="9" height="249.5" fill="url(#jet)" stroke="#3c3c3c" stroke-width="0.9"/>
<text x="527" y="262.7" text-anchor="start">0</text>
<text x="524.3" y="233.04" text-anchor="start">20</text>
<text x="524.3" y="203.38" text-anchor="start">40</text>
<text x="524.3" y="173.72" text-anchor="start">60</text>
<text x="524.3" y="144.06" text-anchor="start">80</text>
<text x="524.3" y="114.4" text-anchor="start">100</text>
<text x="524.3" y="84.74" text-anchor="start">120</text>
<text x="524.3" y="55.08" text-anchor="start">140</text>
<text x="524.3" y="25.42" text-anchor="start">160</text>
<path d="M519.2 229.34H521.5M519.2 199.68H521.5M519.2 170.02H521.5M519.2 140.36H521.5M519.2 110.7H521.5M519.2 81.04H521.5M519.2 51.38H521.5M519.2 21.72H521.5" stroke="#3c3c3c" stroke-width="0.9" fill="none"/>
</svg></body></html>
